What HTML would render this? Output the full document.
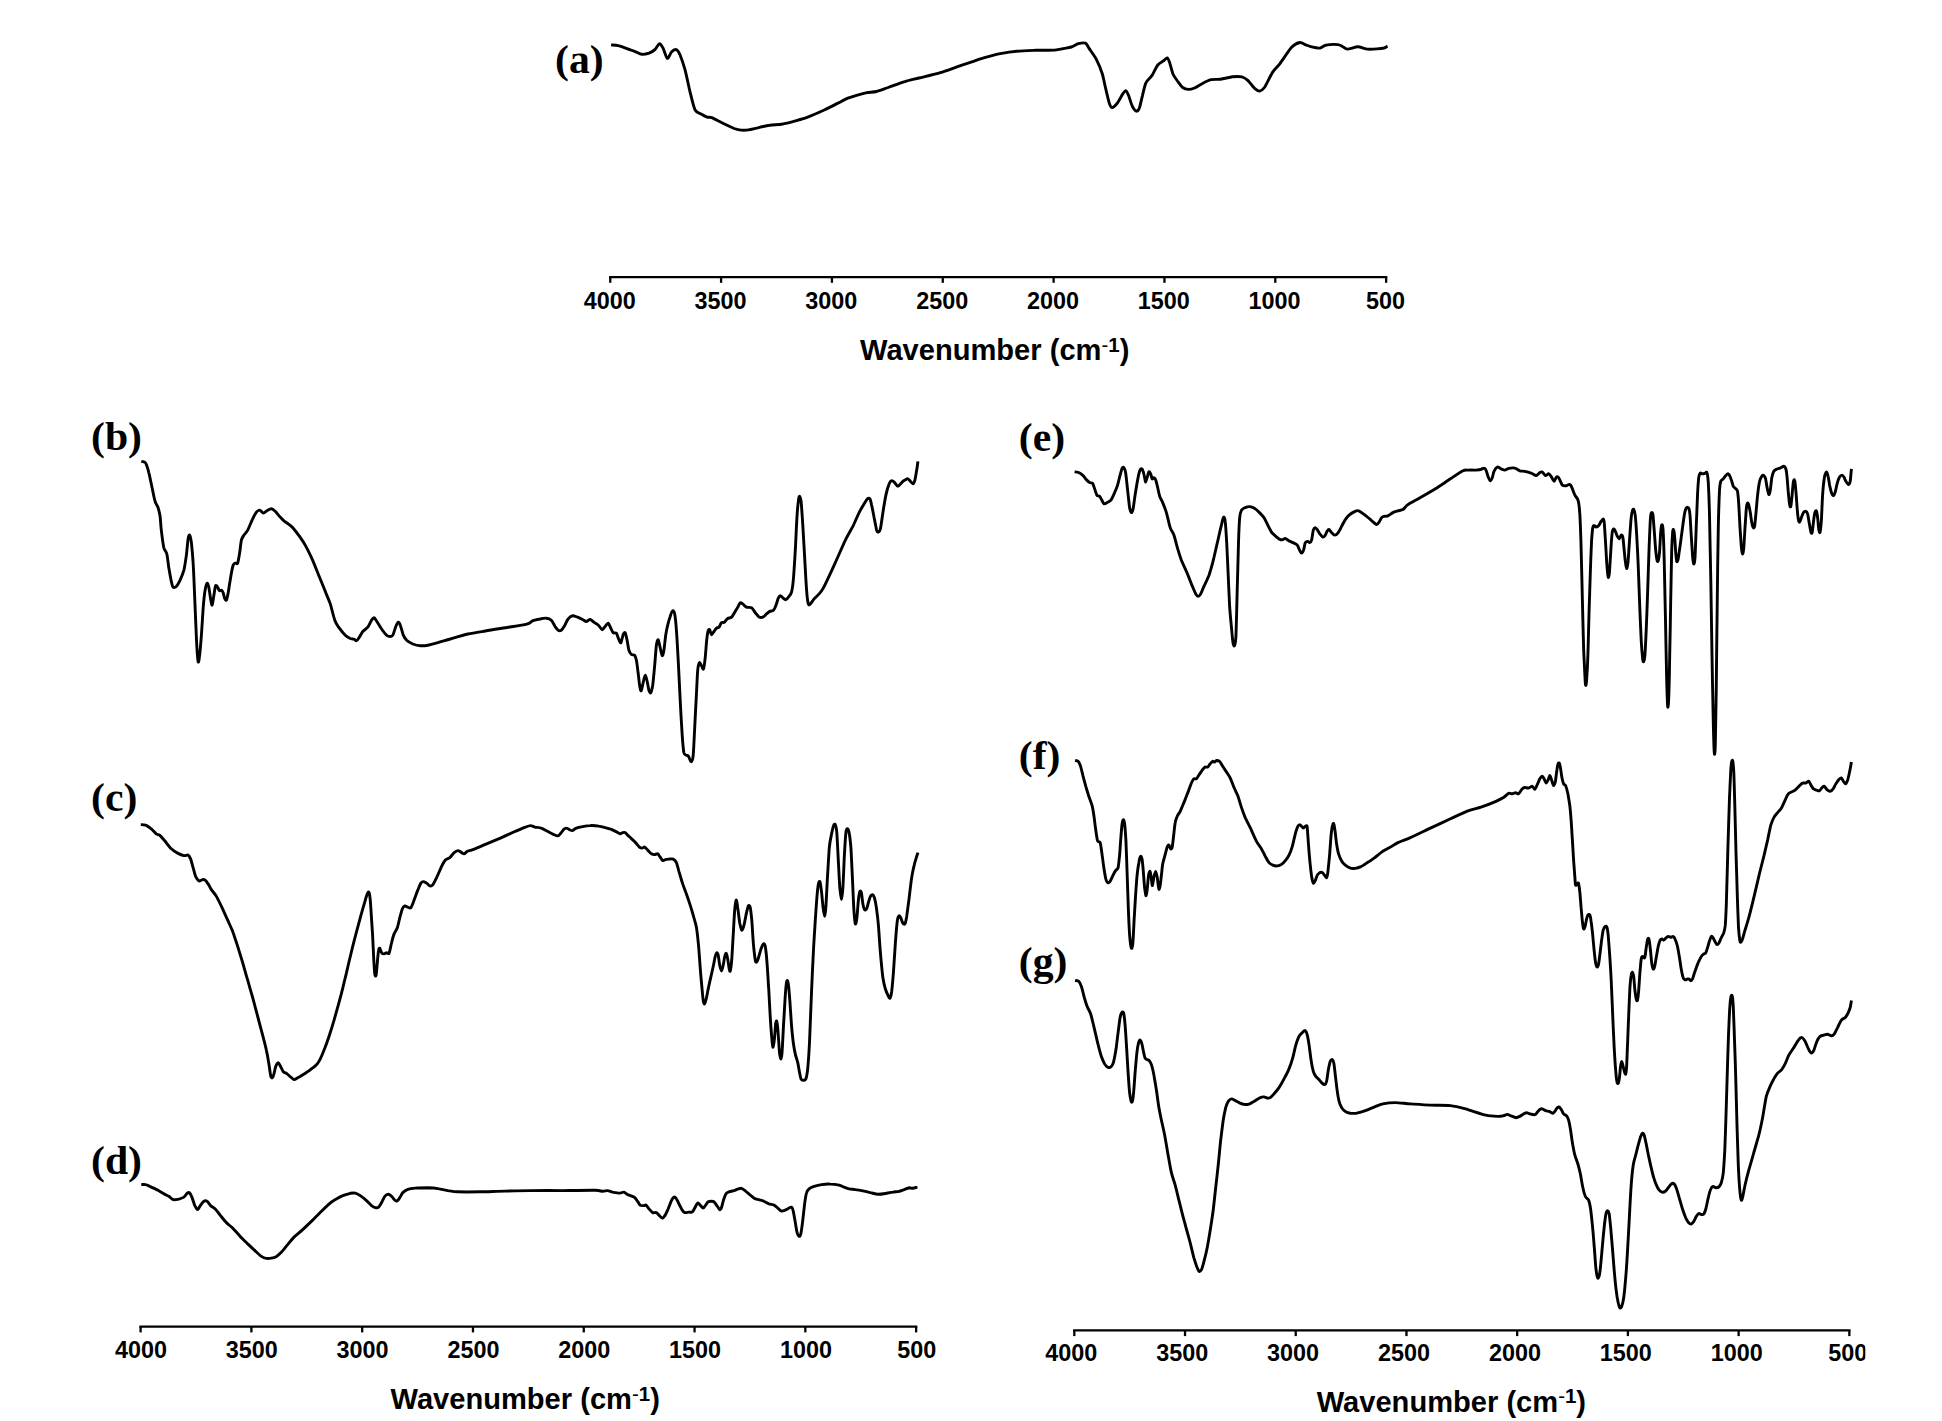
<!DOCTYPE html>
<html><head><meta charset="utf-8"><title>FTIR spectra</title>
<style>
html,body{margin:0;padding:0;background:#fff;}
body{width:1942px;height:1421px;overflow:hidden;}
svg{display:block;}
.cv path{fill:none;stroke:#000;stroke-width:2.9;stroke-linejoin:round;stroke-linecap:butt;}
.ax path{fill:none;stroke:#000;stroke-width:2.3;}
.tk{font-family:"Liberation Sans",Arial,sans-serif;font-weight:bold;font-size:23.4px;text-anchor:middle;fill:#000;}
.lb{font-family:"Liberation Sans",Arial,sans-serif;font-weight:bold;font-size:29.1px;fill:#000;}
.sup{font-size:20.5px;}
.mn{font-weight:normal;}
.pl{font-family:"Liberation Serif","Times New Roman",serif;font-weight:bold;font-size:40.5px;fill:#000;}
</style></head>
<body>
<svg width="1942" height="1421" viewBox="0 0 1942 1421">
<rect width="1942" height="1421" fill="#fff"/>
<g class="cv">
<path d="M611.1 44.9C612.0 45.0 616.0 45.0 618.2 45.6C620.4 46.1 625.4 48.1 627.6 48.9C629.9 49.7 632.9 50.5 634.7 51.3C636.6 52.0 640.0 54.1 641.9 54.3C643.7 54.6 647.2 53.8 649.0 53.2C650.7 52.5 653.5 50.9 654.9 49.6C656.3 48.3 658.5 43.8 659.6 43.7C660.7 43.5 662.1 46.5 663.2 48.4C664.2 50.4 666.3 57.9 667.4 58.4C668.5 58.8 670.3 53.1 671.5 52.0C672.6 50.8 675.1 49.3 676.2 49.6C677.3 49.9 678.6 51.7 679.8 54.3C680.9 57.0 683.5 64.5 685.0 69.7C686.4 75.0 689.1 88.1 690.4 93.4C691.8 98.8 693.7 107.3 695.1 110.0C696.6 112.8 699.5 113.1 701.1 114.0C702.7 115.0 705.6 116.6 707.0 117.1C708.4 117.6 709.7 116.8 711.7 117.6C713.8 118.4 719.4 121.6 722.4 123.0C725.4 124.5 731.7 127.5 734.2 128.5C736.8 129.4 739.4 130.0 741.3 130.1C743.2 130.3 746.2 130.2 748.4 129.9C750.7 129.6 755.1 128.4 757.9 127.8C760.8 127.1 766.6 125.6 769.8 125.2C772.9 124.7 778.4 124.7 781.6 124.2C784.8 123.7 790.0 122.3 793.5 121.4C796.9 120.4 803.6 118.6 807.7 117.1C811.8 115.6 820.1 111.9 824.2 110.0C828.3 108.1 835.3 104.5 838.5 102.9C841.6 101.3 845.4 99.2 847.9 98.2C850.5 97.1 854.9 95.8 857.4 95.1C859.9 94.4 864.4 93.2 866.9 92.7C869.4 92.2 873.5 92.2 876.4 91.5C879.2 90.8 884.4 88.8 888.2 87.5C892.0 86.2 900.7 82.8 904.8 81.6C908.9 80.3 914.3 79.2 919.0 78.0C923.7 76.8 935.3 74.1 940.3 72.6C945.4 71.1 952.8 68.3 956.9 66.9C961.0 65.5 967.5 63.4 971.1 62.2C974.7 61.0 979.8 59.0 983.7 57.9C987.6 56.8 995.8 54.5 1000.3 53.6C1004.7 52.8 1012.1 51.7 1016.8 51.3C1021.6 50.8 1030.7 50.5 1035.8 50.3C1040.9 50.2 1051.0 50.3 1054.7 50.1C1058.5 49.8 1062.0 48.8 1064.2 48.4C1066.4 48.0 1069.4 47.6 1071.3 47.0C1073.2 46.4 1076.5 44.2 1078.4 43.7C1080.3 43.2 1084.1 42.6 1085.5 43.2C1087.0 43.8 1087.7 46.3 1089.1 48.4C1090.5 50.5 1094.5 55.8 1096.2 59.1C1097.9 62.4 1100.9 69.3 1102.1 73.3C1103.4 77.2 1104.7 84.7 1105.7 88.7C1106.6 92.6 1108.4 100.4 1109.2 102.9C1110.1 105.4 1111.0 107.6 1112.1 107.6C1113.2 107.6 1116.2 104.6 1117.5 102.9C1118.9 101.2 1121.2 96.3 1122.3 94.6C1123.4 93.0 1125.0 90.4 1125.8 90.6C1126.7 90.7 1127.8 93.7 1128.7 95.8C1129.5 97.9 1131.4 104.4 1132.4 106.5C1133.5 108.5 1135.5 111.0 1136.5 111.2C1137.4 111.4 1138.8 109.7 1139.5 107.6C1140.3 105.6 1141.5 99.1 1142.4 95.8C1143.2 92.5 1144.7 85.5 1145.9 82.8C1147.2 80.1 1150.3 78.0 1151.9 75.7C1153.4 73.3 1156.2 67.0 1157.8 65.0C1159.4 63.0 1162.4 61.7 1163.7 60.7C1165.0 59.8 1166.5 57.6 1167.3 57.9C1168.1 58.2 1168.8 60.4 1169.6 62.6C1170.4 64.8 1172.1 72.0 1173.2 74.5C1174.3 77.0 1176.7 79.8 1177.9 81.6C1179.2 83.3 1181.2 86.5 1182.7 87.5C1184.1 88.5 1187.0 89.3 1188.6 89.4C1190.2 89.5 1192.8 88.7 1194.5 88.0C1196.2 87.3 1199.4 85.1 1201.6 84.0C1203.8 82.8 1208.6 80.3 1211.1 79.7C1213.6 79.1 1217.7 79.6 1220.6 79.2C1223.4 78.8 1229.6 77.2 1232.4 76.8C1235.2 76.5 1239.8 76.4 1241.9 76.8C1243.9 77.3 1246.1 78.8 1247.8 80.4C1249.5 82.0 1253.3 87.3 1254.9 88.7C1256.5 90.1 1258.4 91.2 1259.6 91.1C1260.9 90.9 1262.6 90.0 1264.4 87.5C1266.1 85.0 1270.6 75.3 1272.7 72.1C1274.7 69.0 1277.2 67.1 1279.8 63.8C1282.3 60.5 1288.9 50.1 1291.6 47.2C1294.3 44.4 1298.0 42.8 1299.9 42.5C1301.8 42.2 1304.1 44.2 1305.8 44.9C1307.6 45.5 1311.0 46.8 1312.9 47.2C1314.8 47.7 1318.3 48.2 1320.0 48.0C1321.8 47.7 1323.6 45.6 1326.0 45.1C1328.3 44.7 1335.6 44.4 1337.8 44.6C1340.0 44.8 1341.3 45.9 1342.5 46.5C1343.8 47.1 1345.2 49.1 1347.3 49.1C1349.3 49.2 1355.3 46.8 1357.9 46.8C1360.6 46.8 1364.9 48.9 1367.4 49.1C1369.9 49.4 1374.7 49.1 1376.9 48.9C1379.1 48.7 1382.6 48.3 1384.0 48.0C1385.4 47.6 1387.1 46.3 1387.5 46.1"/>
<path d="M141.3 461.3C141.9 461.5 144.6 461.5 145.6 463.0C146.6 464.5 147.9 469.0 148.8 472.6C149.8 476.2 151.7 486.2 152.6 490.1C153.4 493.9 154.3 499.0 155.1 501.3C155.8 503.7 157.4 505.6 158.1 507.6C158.7 509.6 159.6 513.3 160.1 516.3C160.5 519.4 160.8 525.9 161.3 530.1C161.8 534.3 163.1 544.5 163.8 547.6C164.6 550.8 166.2 551.2 166.8 553.9C167.5 556.6 168.2 564.0 168.8 567.7C169.4 571.3 170.8 578.8 171.3 581.4C171.9 584.0 172.4 586.5 173.1 587.2C173.8 587.8 175.4 587.4 176.3 586.4C177.3 585.5 179.1 582.3 180.1 580.2C181.1 578.0 183.0 573.5 183.9 570.2C184.7 566.8 185.8 559.3 186.4 555.1C186.9 551.0 187.7 541.5 188.1 538.9C188.5 536.2 189.2 534.6 189.6 535.1C190.0 535.6 190.9 539.0 191.4 542.6C191.8 546.3 192.7 555.6 193.1 562.6C193.6 569.7 194.2 585.2 194.6 595.2C195.1 605.2 195.9 628.9 196.4 637.7C196.8 646.6 197.7 659.2 198.1 661.5C198.6 663.8 199.2 658.7 199.6 655.2C200.1 651.7 200.9 641.9 201.4 635.2C201.9 628.5 202.9 611.2 203.4 605.2C203.9 599.2 204.6 593.1 205.1 590.2C205.6 587.2 206.6 583.5 207.1 583.2C207.6 582.8 208.4 585.6 208.9 587.7C209.3 589.8 210.2 596.6 210.6 598.9C211.1 601.3 211.7 605.7 212.1 605.2C212.6 604.7 213.4 597.8 213.9 595.2C214.4 592.6 215.1 586.7 215.6 585.7C216.1 584.6 217.1 586.5 217.6 587.2C218.1 587.8 218.9 590.3 219.4 590.7C219.9 591.1 220.9 589.9 221.4 590.2C221.9 590.4 222.7 591.6 223.1 592.7C223.6 593.7 224.2 597.2 224.6 598.2C225.1 599.2 225.9 600.9 226.4 600.2C226.9 599.5 227.7 595.3 228.2 592.7C228.7 590.0 229.5 583.8 230.2 580.2C230.8 576.5 232.4 567.4 233.2 565.1C233.9 562.9 235.1 563.4 235.7 563.1C236.3 562.9 237.1 564.5 237.7 563.1C238.2 561.7 239.2 555.7 239.7 552.6C240.2 549.6 240.8 542.5 241.4 540.1C242.0 537.8 243.1 536.5 243.9 535.1C244.8 533.8 246.5 532.3 247.7 530.1C248.8 527.9 251.5 521.3 252.7 518.9C253.8 516.4 255.5 513.3 256.4 512.1C257.4 510.9 258.8 510.0 259.7 510.1C260.6 510.2 262.4 513.0 263.4 513.1C264.4 513.2 266.1 511.2 267.2 510.6C268.3 510.0 270.4 508.7 271.4 508.8C272.5 508.9 274.0 510.2 275.2 511.3C276.4 512.4 279.0 515.8 280.2 517.1C281.4 518.4 282.4 519.5 284.0 520.9C285.6 522.2 290.2 525.1 292.2 527.1C294.2 529.1 297.2 533.2 299.0 535.6C300.7 538.0 303.6 542.2 305.2 545.1C306.9 548.1 309.8 554.0 311.5 557.6C313.2 561.3 315.9 568.2 317.7 572.7C319.6 577.2 323.6 587.3 325.3 591.4C326.9 595.6 329.0 600.1 330.3 603.9C331.5 607.8 333.6 617.0 334.8 620.2C335.9 623.4 337.6 625.7 339.0 627.7C340.4 629.7 343.8 633.8 345.3 635.2C346.8 636.7 349.1 637.9 350.3 638.5C351.4 639.0 353.2 638.9 354.0 639.2C354.9 639.5 355.9 640.9 356.5 640.7C357.2 640.5 358.2 639.0 359.0 637.7C359.9 636.5 361.6 632.9 362.8 631.5C364.0 630.1 366.6 628.7 367.8 627.2C369.0 625.7 370.7 621.5 371.5 620.2C372.4 618.9 373.4 617.6 374.1 617.7C374.7 617.8 375.6 619.5 376.6 621.0C377.6 622.5 380.2 627.1 381.6 629.0C382.9 630.9 385.4 634.2 386.6 635.2C387.7 636.2 389.5 636.5 390.3 636.5C391.2 636.5 392.1 636.6 392.8 635.2C393.6 633.9 395.1 628.2 395.8 626.5C396.6 624.7 397.7 622.4 398.3 622.2C398.9 622.0 399.7 623.5 400.3 625.2C401.0 626.9 402.5 633.2 403.3 635.2C404.2 637.2 405.3 639.1 406.6 640.2C407.9 641.4 411.0 643.2 412.8 644.0C414.7 644.7 418.3 645.6 420.4 645.7C422.4 645.9 425.5 645.6 427.9 645.2C430.2 644.8 434.9 643.6 437.9 642.7C440.9 641.9 446.4 640.1 450.4 639.0C454.4 637.8 463.2 635.0 467.9 634.0C472.6 632.9 480.4 631.8 485.4 631.0C490.4 630.1 499.9 628.6 505.4 627.7C510.9 626.8 523.0 625.1 526.7 624.2C530.4 623.3 531.2 621.4 533.0 620.7C534.7 620.0 538.3 619.3 540.0 619.0C541.8 618.6 544.8 618.0 546.3 618.2C547.8 618.4 550.1 619.1 551.3 620.2C552.5 621.3 554.2 625.1 555.1 626.5C556.0 627.8 557.2 629.7 558.1 630.2C558.9 630.7 560.4 630.8 561.3 630.2C562.2 629.6 563.7 627.2 564.6 625.7C565.5 624.2 567.0 620.3 568.1 619.0C569.1 617.6 571.3 615.9 572.6 615.7C573.8 615.5 576.2 616.7 577.6 617.2C578.9 617.7 581.4 618.9 582.6 619.5C583.8 620.0 585.3 621.5 586.3 621.5C587.3 621.5 589.1 619.4 590.1 619.5C591.1 619.6 592.7 621.4 593.8 622.2C594.9 623.0 597.3 624.2 598.4 625.2C599.5 626.2 601.2 629.5 602.1 629.7C603.0 629.9 604.3 627.3 605.1 626.5C605.9 625.6 607.4 623.0 608.1 623.2C608.8 623.4 609.9 626.4 610.6 627.7C611.3 629.0 612.3 632.0 613.1 632.7C613.9 633.5 615.6 632.3 616.4 633.2C617.1 634.2 618.3 638.5 618.9 639.7C619.5 641.0 620.3 643.4 620.9 642.7C621.4 642.1 622.6 636.1 623.1 634.7C623.7 633.4 624.6 632.0 625.1 632.7C625.7 633.5 626.6 637.9 627.1 640.2C627.6 642.6 628.3 648.3 628.9 650.2C629.4 652.1 630.6 653.8 631.4 654.5C632.2 655.2 634.0 654.5 634.6 655.2C635.3 656.0 635.9 657.9 636.4 660.2C636.9 662.6 637.7 669.4 638.1 672.8C638.6 676.1 639.2 682.9 639.6 685.3C640.0 687.7 640.7 691.1 641.1 690.8C641.6 690.4 642.6 684.8 643.1 682.8C643.7 680.7 644.6 675.4 645.1 675.3C645.7 675.1 646.7 679.5 647.2 681.5C647.7 683.5 648.4 688.8 648.9 690.3C649.4 691.8 650.2 693.4 650.7 692.8C651.2 692.1 652.1 688.9 652.7 685.3C653.2 681.6 654.2 670.6 654.7 665.3C655.2 659.9 655.9 648.6 656.4 645.2C656.9 641.8 657.7 639.4 658.2 639.7C658.7 640.1 659.6 645.6 660.2 647.7C660.7 649.9 661.7 655.4 662.2 655.7C662.7 656.1 663.5 653.0 663.9 650.2C664.4 647.5 665.2 638.6 665.7 635.2C666.2 631.9 667.1 627.7 667.7 625.2C668.3 622.7 669.5 618.4 670.2 616.5C670.8 614.5 672.1 611.0 672.7 610.7C673.3 610.4 674.2 611.3 674.7 613.9C675.2 616.6 676.0 624.0 676.4 630.2C676.9 636.4 677.7 650.9 678.2 660.2C678.7 669.6 679.7 690.3 680.2 700.3C680.7 710.3 681.7 728.3 682.2 735.3C682.7 742.3 683.4 750.2 683.9 752.8C684.5 755.5 685.9 754.9 686.4 755.3C687.0 755.7 687.8 755.3 688.2 755.8C688.6 756.3 689.3 758.3 689.7 759.1C690.1 759.9 691.0 762.1 691.4 761.6C691.9 761.1 692.8 759.8 693.2 755.3C693.6 750.8 694.3 736.2 694.7 727.8C695.1 719.5 696.1 700.5 696.5 692.8C696.9 685.1 697.3 674.3 697.7 670.3C698.1 666.3 699.0 663.4 699.5 662.7C700.0 662.1 700.9 664.9 701.5 665.8C702.0 666.6 703.0 670.1 703.5 669.0C704.0 667.9 704.8 661.6 705.2 657.7C705.6 653.9 706.3 643.8 706.7 640.2C707.1 636.6 707.8 632.1 708.2 630.7C708.6 629.3 709.3 629.2 709.7 629.7C710.1 630.2 710.9 634.5 711.5 634.7C712.0 635.0 713.3 632.3 714.0 631.5C714.6 630.6 715.8 628.8 716.5 628.2C717.1 627.6 718.3 627.9 719.0 627.2C719.6 626.5 720.7 623.4 721.5 622.7C722.2 622.0 723.6 622.8 724.5 622.2C725.3 621.6 726.8 619.1 727.7 618.5C728.7 617.8 730.5 618.1 731.5 617.2C732.5 616.3 734.3 612.9 735.2 611.4C736.1 610.0 737.6 607.6 738.2 606.4C738.9 605.3 739.6 603.0 740.2 602.7C740.8 602.4 741.9 603.3 742.7 603.9C743.6 604.5 745.3 606.7 746.5 607.2C747.7 607.7 750.3 607.0 751.5 607.7C752.7 608.4 754.3 611.5 755.3 612.7C756.3 613.9 758.0 616.4 759.0 617.0C760.0 617.6 761.8 617.6 762.8 617.2C763.8 616.8 765.6 614.7 766.5 613.9C767.5 613.2 768.8 611.9 769.8 611.4C770.7 610.9 772.7 611.0 773.5 610.2C774.4 609.4 775.4 606.8 776.0 605.2C776.7 603.6 777.7 599.5 778.3 598.2C778.9 596.9 779.7 595.7 780.3 595.7C780.9 595.6 782.1 597.1 782.8 597.7C783.5 598.2 785.0 599.9 785.8 599.7C786.6 599.5 788.3 597.4 789.0 596.4C789.8 595.4 791.0 594.3 791.5 592.2C792.1 590.0 792.8 585.8 793.3 580.2C793.8 574.6 794.8 558.8 795.3 550.1C795.8 541.5 796.6 521.8 797.1 515.1C797.5 508.4 798.2 502.1 798.6 499.6C798.9 497.1 799.2 496.1 799.6 496.3C799.9 496.6 800.6 497.5 801.1 501.3C801.5 505.2 802.3 517.3 802.8 525.1C803.3 532.9 804.3 551.5 804.8 560.1C805.3 568.8 806.1 584.3 806.6 590.2C807.0 596.0 807.8 602.1 808.3 603.9C808.8 605.8 809.6 604.6 810.3 603.9C811.1 603.3 812.9 600.3 814.1 598.9C815.2 597.6 817.9 595.3 819.1 593.9C820.2 592.6 821.7 590.9 822.8 588.9C824.0 586.9 826.2 582.4 827.8 578.9C829.5 575.4 833.0 567.8 835.3 562.6C837.7 557.5 843.0 545.0 845.4 540.1C847.7 535.3 851.0 530.0 852.9 526.4C854.7 522.7 857.6 515.6 859.1 512.6C860.6 509.6 863.0 505.7 864.1 503.8C865.2 502.0 866.6 499.5 867.4 498.8C868.1 498.2 869.3 498.0 869.9 498.8C870.4 499.7 871.1 502.6 871.6 505.1C872.2 507.6 873.5 514.3 874.1 517.6C874.8 520.9 876.1 528.2 876.6 530.1C877.2 532.0 877.9 532.3 878.4 532.1C878.9 531.9 879.8 531.5 880.4 528.9C881.0 526.3 882.2 517.1 882.9 512.6C883.6 508.1 885.1 498.9 885.9 495.1C886.7 491.2 888.4 485.8 889.2 483.8C889.9 481.9 891.0 480.8 891.7 480.6C892.3 480.3 893.3 481.3 894.2 482.1C895.0 482.8 896.9 486.3 897.9 486.3C898.9 486.4 900.7 483.4 901.7 482.6C902.6 481.7 904.1 480.6 904.9 480.1C905.8 479.6 907.2 478.6 907.9 478.8C908.7 479.0 909.8 480.6 910.4 481.3C911.1 482.0 912.3 484.0 912.9 483.8C913.5 483.6 914.4 481.9 914.9 480.1C915.4 478.2 916.3 472.6 916.7 470.1C917.1 467.5 917.8 462.5 917.9 461.3"/>
<path d="M140.8 824.6C141.4 824.6 144.2 824.5 145.6 825.1C147.0 825.6 149.9 827.7 151.3 828.8C152.8 830.0 155.2 832.9 156.3 833.8C157.5 834.7 158.9 834.6 160.1 835.6C161.3 836.6 163.6 839.6 165.1 841.3C166.6 843.1 169.7 847.3 171.3 848.8C173.0 850.4 175.9 852.2 177.6 853.1C179.3 854.0 182.5 855.3 183.9 855.6C185.3 855.9 187.2 854.7 188.1 855.1C189.0 855.5 189.9 857.2 190.6 858.9C191.3 860.5 192.4 865.3 193.1 867.6C193.8 869.9 194.9 874.6 195.6 876.4C196.4 878.1 197.9 880.4 198.9 880.9C199.8 881.3 201.8 879.7 202.6 879.6C203.5 879.5 204.4 879.6 205.1 880.1C205.9 880.7 207.3 882.6 208.1 883.9C209.0 885.1 210.3 888.0 211.4 889.6C212.5 891.3 214.9 893.8 216.4 896.4C217.9 899.0 221.1 905.7 222.6 908.9C224.1 912.1 226.3 917.2 227.7 920.2C229.0 923.2 231.3 927.9 232.7 931.4C234.0 934.9 236.3 942.3 237.7 946.4C239.0 950.6 241.3 958.2 242.7 962.7C244.0 967.2 246.3 975.6 247.7 980.2C249.0 984.9 251.3 992.9 252.7 997.7C254.0 1002.6 256.3 1011.5 257.7 1016.5C259.0 1021.5 261.5 1030.8 262.7 1035.3C263.9 1039.8 265.6 1046.5 266.4 1050.3C267.3 1054.1 268.4 1060.7 268.9 1064.1C269.5 1067.5 270.3 1074.0 270.7 1075.8C271.1 1077.7 271.8 1078.1 272.2 1077.8C272.6 1077.6 273.5 1075.6 273.9 1074.1C274.4 1072.6 275.1 1068.1 275.7 1066.6C276.3 1065.1 277.6 1062.9 278.2 1062.8C278.8 1062.7 279.5 1064.6 280.2 1065.8C280.9 1067.0 282.4 1070.6 283.2 1071.6C284.0 1072.6 285.5 1072.7 286.5 1073.3C287.4 1074.0 289.2 1075.7 290.2 1076.6C291.2 1077.4 293.0 1079.4 294.0 1079.6C295.0 1079.7 296.4 1078.6 297.7 1077.8C299.1 1077.1 302.3 1075.1 304.0 1074.1C305.6 1073.0 308.6 1071.1 310.2 1069.8C311.9 1068.6 315.2 1066.2 316.5 1064.8C317.8 1063.4 319.2 1061.0 320.2 1059.1C321.2 1057.1 322.8 1053.3 324.0 1050.3C325.2 1047.3 327.7 1040.5 329.0 1036.5C330.3 1032.5 332.5 1025.4 334.0 1020.3C335.5 1015.1 338.8 1003.4 340.3 997.7C341.8 992.1 343.9 983.2 345.3 977.7C346.6 972.2 348.9 962.0 350.3 956.5C351.6 950.9 353.9 941.6 355.3 936.4C356.6 931.3 359.0 922.5 360.3 917.7C361.6 912.8 364.4 903.3 365.3 900.1C366.2 897.0 366.8 895.0 367.3 893.9C367.8 892.8 368.4 891.6 368.8 892.1C369.2 892.6 369.7 894.6 370.0 897.6C370.4 900.7 371.0 910.2 371.3 915.2C371.6 920.2 372.2 929.2 372.6 935.2C372.9 941.2 373.5 955.0 373.8 960.2C374.1 965.4 374.5 972.0 374.8 974.0C375.1 976.0 375.7 976.7 376.1 975.2C376.4 973.7 377.0 966.0 377.3 962.7C377.6 959.4 378.2 952.1 378.6 950.2C378.9 948.3 379.4 947.9 379.8 948.2C380.2 948.5 381.0 951.9 381.6 952.7C382.1 953.5 383.4 953.9 384.1 953.9C384.7 953.9 385.9 952.8 386.6 952.7C387.2 952.6 388.4 954.5 389.1 953.2C389.7 951.9 390.9 945.3 391.6 942.7C392.2 940.1 393.3 935.9 394.1 933.9C394.8 931.9 396.6 929.8 397.3 927.7C398.1 925.5 399.2 920.2 399.8 917.7C400.5 915.2 401.7 910.5 402.3 908.9C403.0 907.3 404.1 906.1 404.8 905.9C405.6 905.7 407.0 906.9 407.8 907.2C408.6 907.4 410.0 908.6 410.8 907.7C411.7 906.7 413.2 902.5 414.1 900.1C415.0 897.8 416.9 892.4 417.8 890.1C418.7 887.9 420.1 884.3 420.9 883.1C421.6 882.0 422.6 881.6 423.4 881.6C424.1 881.6 425.7 882.6 426.6 883.1C427.5 883.7 429.0 885.7 429.9 885.9C430.7 886.1 432.0 885.7 432.9 884.6C433.8 883.5 435.4 880.1 436.6 877.6C437.8 875.2 440.5 868.7 441.6 866.4C442.8 864.0 444.3 861.3 445.4 860.1C446.5 858.9 448.7 858.6 449.9 857.6C451.0 856.6 453.1 853.5 454.1 852.6C455.2 851.7 457.0 850.7 457.9 850.6C458.8 850.5 460.1 851.7 460.9 852.1C461.7 852.5 463.3 853.9 464.1 853.8C465.0 853.7 466.2 851.9 467.4 851.3C468.6 850.8 470.5 850.5 472.9 849.6C475.3 848.7 481.7 845.9 485.4 844.3C489.1 842.8 496.4 839.8 500.4 838.1C504.4 836.3 512.1 832.8 515.4 831.3C518.8 829.9 523.5 827.8 525.5 827.1C527.5 826.3 529.2 825.6 530.5 825.6C531.7 825.6 533.6 826.7 535.0 827.1C536.5 827.4 539.6 827.5 541.3 828.1C543.0 828.6 545.9 830.5 547.5 831.3C549.2 832.2 552.4 834.0 553.8 834.6C555.2 835.2 557.1 836.1 558.1 835.8C559.1 835.6 560.5 833.4 561.3 832.6C562.1 831.7 563.1 829.9 563.8 829.3C564.5 828.7 565.6 828.0 566.3 828.1C567.1 828.1 568.5 829.2 569.3 829.6C570.2 829.9 571.6 830.8 572.6 830.6C573.5 830.4 575.0 828.6 576.3 828.1C577.7 827.5 580.7 826.9 582.6 826.6C584.4 826.2 587.9 825.6 590.1 825.6C592.3 825.5 596.8 825.8 598.9 826.1C600.9 826.3 603.4 827.1 605.1 827.6C606.8 828.0 609.9 828.8 611.4 829.3C612.9 829.9 615.2 831.2 616.4 831.8C617.5 832.4 619.3 833.7 620.1 833.8C621.0 833.9 622.0 832.7 622.6 832.6C623.3 832.4 624.3 832.1 625.1 832.6C626.0 833.1 627.5 835.1 628.9 836.3C630.2 837.6 633.7 840.6 635.1 842.1C636.5 843.5 638.5 846.3 639.4 847.1C640.3 847.9 641.4 848.1 642.1 848.1C642.8 848.1 643.9 846.8 644.6 847.1C645.4 847.4 646.8 849.2 647.7 850.1C648.6 851.0 650.5 853.2 651.4 853.8C652.3 854.4 653.8 854.6 654.7 854.6C655.5 854.6 656.9 853.5 657.7 853.8C658.4 854.2 659.5 856.2 660.2 857.1C660.8 858.0 662.0 860.3 662.7 860.6C663.3 860.9 664.3 859.8 665.2 859.6C666.0 859.4 667.9 859.2 668.9 859.1C670.0 859.0 672.2 858.6 673.2 859.1C674.2 859.6 675.7 861.0 676.4 862.6C677.2 864.2 678.1 868.5 678.9 871.4C679.8 874.2 681.7 880.9 682.7 883.9C683.7 886.9 685.4 891.1 686.4 893.9C687.4 896.7 689.2 902.0 690.2 905.1C691.2 908.3 693.1 914.7 693.9 917.7C694.8 920.7 695.9 924.0 696.5 927.7C697.1 931.3 698.0 939.9 698.5 945.2C699.0 950.5 699.8 962.4 700.2 967.7C700.6 973.1 701.3 980.9 701.7 985.2C702.1 989.6 702.8 997.7 703.2 1000.2C703.6 1002.7 704.1 1004.2 704.5 1004.0C704.9 1003.8 705.7 1001.0 706.2 999.0C706.7 997.0 707.6 991.8 708.2 989.0C708.8 986.1 710.0 980.7 710.7 977.7C711.4 974.7 712.6 969.3 713.2 966.5C713.8 963.6 714.8 958.3 715.2 956.5C715.7 954.6 716.3 952.9 716.7 952.7C717.1 952.5 717.8 953.5 718.2 955.2C718.6 956.9 719.3 963.1 719.7 965.2C720.2 967.3 721.0 971.0 721.5 971.0C721.9 971.0 722.8 967.1 723.2 965.2C723.7 963.3 724.3 958.0 724.7 956.5C725.1 954.9 725.8 953.1 726.2 953.4C726.6 953.8 727.3 956.9 727.7 959.0C728.1 961.0 728.9 967.4 729.2 969.0C729.6 970.6 729.9 972.1 730.2 971.0C730.6 969.8 731.3 965.0 731.7 960.2C732.1 955.4 732.8 941.9 733.2 935.2C733.6 928.5 734.3 914.8 734.7 910.2C735.1 905.5 735.8 900.5 736.2 900.1C736.6 899.8 737.3 904.6 737.7 907.7C738.2 910.7 739.2 919.7 739.7 922.7C740.3 925.7 741.2 929.8 741.7 930.2C742.3 930.5 743.4 927.5 744.0 925.2C744.6 922.8 745.9 915.3 746.5 912.7C747.1 910.1 748.0 906.3 748.5 905.6C749.0 905.0 749.8 905.7 750.3 907.7C750.7 909.6 751.3 915.2 751.8 920.2C752.2 925.2 753.0 939.9 753.5 945.2C754.0 950.5 754.9 957.9 755.3 960.2C755.7 962.5 756.1 962.5 756.5 962.2C756.9 961.9 757.9 959.5 758.5 957.7C759.1 955.9 760.4 950.8 761.0 948.9C761.7 947.1 763.0 944.3 763.5 943.9C764.1 943.6 764.8 943.9 765.3 946.4C765.7 948.9 766.6 956.9 767.0 962.7C767.5 968.5 768.3 982.9 768.8 990.2C769.2 997.6 769.9 1011.4 770.3 1017.8C770.7 1024.1 771.4 1033.8 771.8 1037.8C772.1 1041.7 772.4 1047.0 772.8 1047.3C773.1 1047.6 773.9 1043.6 774.3 1040.3C774.7 1037.0 775.4 1025.2 775.8 1022.8C776.2 1020.4 776.7 1020.6 777.0 1022.3C777.4 1023.9 778.0 1031.2 778.3 1035.3C778.6 1039.4 779.2 1049.6 779.5 1052.8C779.9 1056.0 780.5 1059.1 780.8 1059.1C781.1 1059.1 781.7 1057.3 782.0 1052.8C782.4 1048.3 783.1 1032.9 783.5 1025.3C784.0 1017.6 784.9 1001.1 785.3 995.2C785.7 989.3 786.4 982.5 786.8 981.0C787.2 979.5 787.9 981.4 788.3 984.0C788.7 986.5 789.4 994.7 789.8 1000.2C790.2 1005.8 791.1 1019.6 791.5 1025.3C792.0 1030.9 792.8 1039.0 793.3 1042.8C793.8 1046.6 794.7 1051.4 795.3 1054.1C795.9 1056.7 797.2 1060.3 797.8 1062.8C798.4 1065.3 799.1 1070.7 799.6 1072.8C800.0 1075.0 800.6 1078.1 801.1 1079.1C801.6 1080.1 802.7 1080.3 803.3 1080.3C803.9 1080.3 805.2 1080.7 805.8 1079.1C806.4 1077.4 807.3 1073.0 807.8 1067.8C808.3 1062.6 809.1 1050.6 809.6 1040.3C810.1 1029.9 811.0 1002.6 811.6 990.2C812.1 977.9 813.1 957.0 813.6 947.7C814.1 938.4 814.9 927.2 815.3 920.2C815.8 913.2 816.6 900.1 817.1 895.1C817.5 890.2 818.2 884.9 818.6 883.1C819.0 881.4 819.7 880.9 820.1 882.1C820.5 883.4 821.2 889.2 821.6 892.6C822.0 896.0 822.7 904.5 823.1 907.7C823.5 910.8 824.2 916.4 824.6 916.4C825.0 916.4 825.5 912.5 825.8 907.7C826.2 902.8 826.9 888.1 827.3 880.1C827.8 872.1 828.8 853.8 829.3 847.6C829.9 841.4 831.0 836.8 831.6 833.8C832.2 830.9 833.1 826.8 833.6 825.6C834.1 824.3 834.9 823.6 835.3 824.6C835.8 825.5 836.4 827.8 836.8 832.6C837.2 837.3 837.9 852.8 838.3 860.1C838.7 867.4 839.4 882.4 839.8 887.6C840.3 892.9 841.0 899.6 841.4 899.6C841.8 899.6 842.5 893.6 842.9 887.6C843.3 881.7 844.0 862.4 844.4 855.1C844.8 847.8 845.5 836.1 845.9 832.6C846.3 829.1 846.9 828.8 847.4 828.8C847.8 828.8 848.6 830.1 849.1 832.6C849.6 835.1 850.4 841.6 850.9 847.6C851.3 853.6 852.0 869.3 852.4 877.6C852.8 886.0 853.5 904.0 853.9 910.2C854.3 916.3 855.0 922.9 855.4 923.9C855.8 924.9 856.5 920.8 856.9 917.7C857.3 914.5 858.0 903.6 858.4 900.1C858.8 896.6 859.5 892.4 859.9 891.4C860.3 890.4 861.0 891.0 861.4 892.6C861.8 894.3 862.4 901.6 862.9 903.9C863.3 906.2 864.1 909.0 864.6 909.7C865.1 910.3 866.1 909.8 866.6 908.9C867.1 908.0 867.9 904.3 868.4 902.6C868.9 901.0 869.8 897.5 870.4 896.4C870.9 895.3 871.8 894.5 872.4 894.6C872.9 894.8 873.9 895.9 874.4 897.6C874.9 899.4 875.9 904.0 876.4 907.7C876.9 911.3 877.9 919.2 878.4 925.2C878.9 931.2 879.8 945.7 880.4 952.7C881.0 959.7 882.2 972.9 882.9 977.7C883.6 982.6 884.7 986.6 885.4 989.0C886.1 991.3 887.3 994.0 887.9 995.2C888.5 996.5 889.4 998.7 889.9 998.2C890.4 997.7 891.2 994.9 891.7 991.5C892.1 988.1 892.9 979.2 893.4 972.7C893.9 966.2 894.9 949.7 895.4 942.7C895.9 935.7 896.9 923.8 897.4 920.2C897.9 916.6 898.9 915.8 899.4 915.7C899.9 915.5 900.7 917.9 901.2 918.9C901.6 919.9 902.4 922.5 902.9 923.2C903.4 923.8 904.4 924.8 904.9 923.9C905.4 923.0 906.1 919.9 906.7 916.4C907.2 912.9 908.5 902.8 909.2 897.6C909.8 892.5 911.0 882.0 911.7 877.6C912.3 873.3 913.5 867.9 914.2 865.1C914.8 862.3 916.2 858.0 916.7 856.3C917.2 854.7 917.8 853.1 917.9 852.6"/>
<path d="M141.3 1184.6C141.9 1184.6 144.2 1184.2 145.6 1184.6C146.9 1184.9 149.7 1186.3 151.3 1187.1C152.9 1187.8 155.9 1189.2 157.6 1190.1C159.2 1191.0 162.3 1193.0 163.8 1193.8C165.3 1194.7 167.6 1195.6 168.8 1196.3C170.1 1197.1 171.8 1199.2 173.1 1199.6C174.4 1199.9 177.4 1199.4 178.9 1199.1C180.3 1198.7 182.8 1197.8 183.9 1197.1C185.0 1196.3 186.4 1193.9 187.1 1193.3C187.8 1192.7 188.7 1192.1 189.4 1192.6C190.0 1193.1 191.2 1195.4 191.9 1197.1C192.6 1198.7 193.9 1203.4 194.6 1205.1C195.4 1206.8 196.8 1209.6 197.6 1209.6C198.4 1209.6 199.8 1206.2 200.6 1205.1C201.5 1204.0 203.0 1201.8 203.9 1201.3C204.7 1200.8 206.2 1200.8 207.1 1201.3C208.0 1201.9 209.6 1204.6 210.6 1205.6C211.7 1206.6 213.9 1207.6 215.1 1208.8C216.4 1210.1 218.6 1213.3 220.1 1215.1C221.6 1216.9 224.7 1220.9 226.4 1222.6C228.1 1224.3 230.8 1226.3 232.7 1228.1C234.5 1229.9 238.2 1234.3 240.2 1236.4C242.2 1238.5 245.7 1241.9 247.7 1243.9C249.7 1245.8 253.3 1249.2 255.2 1250.9C257.0 1252.6 259.9 1255.4 261.4 1256.4C262.9 1257.4 265.1 1258.2 266.4 1258.4C267.8 1258.6 270.1 1258.4 271.4 1258.1C272.8 1257.9 275.1 1257.2 276.5 1256.4C277.8 1255.6 280.0 1253.7 281.5 1252.1C283.0 1250.6 286.0 1246.6 287.7 1244.6C289.4 1242.6 292.0 1239.1 294.0 1237.1C296.0 1235.1 300.2 1231.9 302.7 1229.6C305.2 1227.3 310.2 1222.5 312.7 1220.1C315.2 1217.7 319.5 1213.3 321.5 1211.3C323.5 1209.3 325.9 1206.7 327.8 1205.1C329.6 1203.5 333.3 1200.8 335.3 1199.6C337.3 1198.3 340.8 1196.4 342.8 1195.6C344.8 1194.7 348.6 1193.7 350.3 1193.3C351.9 1193.0 353.9 1192.8 355.3 1193.1C356.6 1193.4 358.8 1194.6 360.3 1195.6C361.8 1196.6 365.0 1199.2 366.5 1200.6C368.0 1201.9 370.4 1204.7 371.5 1205.6C372.7 1206.5 374.4 1207.4 375.3 1207.6C376.2 1207.8 377.7 1207.8 378.6 1207.1C379.4 1206.4 380.7 1204.0 381.6 1202.6C382.4 1201.2 383.9 1197.4 384.8 1196.3C385.7 1195.2 387.4 1194.3 388.3 1194.3C389.2 1194.3 390.7 1195.6 391.6 1196.3C392.4 1197.1 394.1 1199.5 394.8 1200.1C395.6 1200.7 396.7 1201.2 397.3 1200.8C398.0 1200.5 399.1 1198.7 399.8 1197.6C400.6 1196.5 401.8 1193.7 402.8 1192.6C403.9 1191.5 406.2 1189.9 407.8 1189.3C409.5 1188.7 412.7 1188.3 415.3 1188.1C418.0 1187.9 424.9 1187.8 427.9 1187.8C430.9 1187.9 435.2 1188.2 437.9 1188.6C440.5 1188.9 445.2 1190.1 447.9 1190.6C450.5 1191.0 453.6 1191.7 457.9 1191.8C462.2 1192.0 474.1 1191.9 480.4 1191.8C486.8 1191.7 498.8 1191.2 505.4 1191.1C512.1 1190.9 522.8 1190.6 530.5 1190.6C538.1 1190.5 553.9 1190.6 562.6 1190.6C571.2 1190.5 589.8 1190.2 595.1 1190.3C600.4 1190.4 600.9 1191.3 602.6 1191.3C604.3 1191.4 606.3 1190.5 607.6 1190.6C608.9 1190.7 610.9 1191.7 612.6 1192.1C614.3 1192.4 618.6 1193.1 620.1 1193.1C621.6 1193.1 622.9 1191.9 623.9 1192.1C624.9 1192.3 626.3 1193.9 627.6 1194.6C629.0 1195.2 632.6 1196.3 633.9 1197.1C635.2 1197.9 636.3 1199.5 637.1 1200.6C638.0 1201.7 639.2 1204.4 640.1 1205.1C641.0 1205.8 643.1 1205.6 643.9 1205.6C644.7 1205.6 645.2 1204.7 645.9 1205.1C646.6 1205.5 648.0 1207.8 648.9 1208.8C649.8 1209.8 651.7 1212.1 652.7 1212.6C653.7 1213.1 655.6 1212.3 656.4 1212.6C657.2 1212.9 658.1 1214.4 658.9 1215.1C659.7 1215.8 661.3 1218.1 662.2 1218.1C663.0 1218.1 664.4 1216.3 665.2 1215.1C666.0 1213.9 667.3 1210.8 668.2 1208.8C669.0 1206.9 670.7 1202.2 671.4 1200.6C672.2 1199.0 673.3 1197.3 673.9 1197.1C674.6 1196.8 675.8 1197.9 676.4 1198.8C677.1 1199.7 678.2 1202.4 678.9 1203.8C679.7 1205.3 681.2 1208.4 681.9 1209.6C682.7 1210.8 683.8 1212.3 684.7 1212.6C685.6 1212.9 687.9 1212.2 688.9 1212.1C689.9 1212.0 691.4 1212.6 692.2 1212.1C693.0 1211.6 694.0 1209.3 694.7 1208.1C695.4 1206.9 697.0 1203.5 697.7 1203.1C698.4 1202.7 699.5 1204.4 700.2 1205.1C700.9 1205.8 702.5 1208.1 703.2 1208.1C703.9 1208.1 705.0 1205.9 705.7 1205.1C706.4 1204.3 707.4 1202.3 708.2 1201.8C709.0 1201.3 710.7 1201.3 711.5 1201.3C712.2 1201.3 713.3 1201.3 714.0 1201.8C714.6 1202.3 715.7 1204.1 716.5 1205.1C717.2 1206.1 719.1 1209.3 719.7 1209.6C720.4 1209.9 721.0 1208.9 721.5 1207.6C722.0 1206.3 722.9 1201.9 723.5 1200.1C724.1 1198.2 725.2 1194.9 726.0 1193.8C726.7 1192.7 727.9 1192.3 729.0 1191.8C730.1 1191.4 732.8 1190.9 734.0 1190.6C735.2 1190.2 736.7 1189.4 737.7 1189.1C738.7 1188.8 740.5 1188.1 741.5 1188.3C742.5 1188.6 744.1 1189.9 745.3 1190.8C746.4 1191.7 748.9 1194.0 750.3 1195.1C751.6 1196.1 753.9 1198.2 755.3 1198.8C756.6 1199.5 759.1 1199.7 760.3 1200.1C761.4 1200.4 762.9 1200.8 764.0 1201.3C765.2 1201.8 767.7 1203.3 769.0 1203.8C770.4 1204.3 772.9 1204.5 774.0 1205.1C775.2 1205.7 776.9 1207.3 777.8 1208.1C778.7 1208.9 780.0 1210.5 780.8 1210.8C781.6 1211.2 783.1 1210.9 784.0 1210.6C785.0 1210.3 786.8 1209.3 787.8 1208.8C788.8 1208.4 790.8 1206.8 791.5 1207.1C792.3 1207.4 792.8 1209.3 793.3 1211.3C793.8 1213.4 794.8 1219.8 795.3 1222.6C795.8 1225.4 796.6 1230.8 797.1 1232.6C797.6 1234.5 798.6 1236.2 799.1 1236.4C799.6 1236.5 800.3 1236.0 800.8 1233.9C801.3 1231.7 802.3 1224.3 802.8 1220.1C803.3 1215.9 804.3 1206.3 804.8 1202.6C805.3 1198.9 806.0 1194.4 806.6 1192.6C807.1 1190.7 808.1 1189.7 809.1 1188.8C810.1 1188.0 812.4 1186.9 814.1 1186.3C815.7 1185.8 819.4 1184.9 821.6 1184.6C823.7 1184.3 828.0 1184.0 830.3 1184.1C832.7 1184.1 837.3 1184.7 839.1 1185.1C840.9 1185.5 842.8 1186.6 844.1 1187.1C845.4 1187.6 847.6 1188.5 849.1 1188.8C850.6 1189.2 853.5 1189.3 855.4 1189.6C857.2 1189.8 860.9 1190.4 862.9 1190.8C864.9 1191.2 868.4 1192.1 870.4 1192.6C872.4 1193.0 875.7 1194.2 877.9 1194.3C880.1 1194.4 884.6 1193.6 886.6 1193.3C888.6 1193.0 891.2 1192.3 892.9 1192.1C894.6 1191.8 897.7 1191.7 899.2 1191.3C900.7 1191.0 902.8 1190.0 904.2 1189.6C905.5 1189.1 908.0 1188.0 909.2 1187.8C910.3 1187.7 911.8 1188.4 912.9 1188.3C914.0 1188.2 916.8 1187.2 917.4 1187.1"/>
<path d="M1074.6 471.8C1075.1 471.9 1077.8 472.1 1078.8 472.6C1079.9 473.0 1081.6 474.1 1082.6 475.1C1083.6 476.0 1085.4 478.6 1086.3 479.6C1087.3 480.6 1088.7 482.1 1089.6 482.6C1090.4 483.1 1091.9 482.5 1092.6 483.3C1093.3 484.2 1094.0 487.3 1094.6 488.8C1095.2 490.4 1096.2 494.1 1096.8 495.1C1097.5 496.1 1098.9 495.7 1099.6 496.3C1100.3 497.0 1101.2 499.1 1101.8 500.1C1102.4 501.1 1103.4 503.5 1104.1 503.8C1104.8 504.2 1106.2 503.1 1107.1 502.6C1108.0 502.1 1109.9 501.4 1110.9 500.1C1111.9 498.8 1113.7 494.6 1114.6 492.6C1115.5 490.6 1116.9 487.4 1117.6 485.1C1118.3 482.7 1119.5 477.3 1120.1 475.1C1120.7 472.8 1121.6 469.3 1122.1 468.3C1122.6 467.3 1123.4 467.0 1123.9 467.6C1124.3 468.1 1125.1 469.6 1125.6 472.6C1126.1 475.6 1127.1 485.4 1127.6 490.1C1128.2 494.8 1129.1 504.6 1129.6 507.6C1130.1 510.6 1130.9 512.4 1131.4 512.6C1131.8 512.8 1132.6 511.2 1133.1 508.9C1133.6 506.5 1134.5 498.9 1135.1 495.1C1135.7 491.3 1137.0 483.2 1137.6 480.1C1138.2 476.9 1139.1 472.8 1139.6 471.3C1140.1 469.8 1140.9 468.8 1141.4 468.8C1141.9 468.8 1142.7 470.1 1143.1 471.3C1143.6 472.5 1144.3 476.1 1144.6 477.6C1145.0 479.0 1145.3 482.1 1145.6 482.1C1146.0 482.1 1146.7 478.9 1147.1 477.6C1147.6 476.2 1148.4 472.3 1148.9 471.8C1149.4 471.3 1150.2 472.9 1150.6 473.8C1151.1 474.7 1151.7 478.3 1152.1 478.8C1152.6 479.3 1153.4 477.5 1153.9 477.6C1154.4 477.7 1155.1 478.2 1155.6 479.6C1156.2 480.9 1157.1 485.3 1157.7 487.6C1158.2 489.8 1159.0 494.3 1159.7 496.3C1160.3 498.3 1161.8 500.4 1162.7 502.6C1163.6 504.8 1165.4 509.3 1166.4 512.6C1167.4 515.9 1169.2 524.6 1170.2 527.6C1171.2 530.6 1172.9 532.3 1173.9 535.1C1174.9 538.0 1176.7 545.6 1177.7 548.9C1178.7 552.2 1180.3 557.2 1181.4 560.2C1182.6 563.2 1185.1 568.2 1186.4 571.4C1187.8 574.6 1190.2 580.9 1191.4 583.9C1192.7 586.9 1194.8 592.3 1195.7 593.9C1196.6 595.6 1197.5 596.4 1198.2 596.4C1198.9 596.4 1199.9 595.3 1200.7 593.9C1201.5 592.6 1202.8 588.9 1203.9 586.4C1205.1 583.9 1207.8 578.3 1209.0 575.2C1210.1 572.0 1211.7 566.5 1212.7 562.7C1213.7 558.8 1215.5 550.7 1216.5 546.4C1217.5 542.1 1219.4 533.7 1220.2 530.1C1221.1 526.6 1222.2 521.3 1222.7 519.6C1223.2 517.9 1223.6 516.9 1224.0 517.1C1224.3 517.3 1224.9 518.0 1225.2 521.4C1225.6 524.8 1226.3 535.5 1226.7 542.6C1227.1 549.8 1227.8 566.5 1228.2 575.2C1228.6 583.8 1229.3 600.7 1229.7 607.7C1230.2 614.7 1231.0 622.9 1231.5 627.7C1231.9 632.6 1232.8 641.7 1233.2 644.0C1233.7 646.3 1234.4 646.4 1234.7 645.2C1235.1 644.1 1235.6 642.6 1236.0 635.2C1236.3 627.9 1236.9 602.5 1237.2 590.2C1237.6 577.8 1238.2 552.3 1238.5 542.6C1238.8 533.0 1239.3 521.9 1239.7 517.6C1240.1 513.3 1240.8 511.4 1241.5 510.1C1242.2 508.8 1244.1 508.1 1245.2 507.6C1246.3 507.1 1248.6 506.5 1249.7 506.6C1250.9 506.7 1252.8 507.4 1254.0 508.1C1255.2 508.8 1257.7 510.8 1259.0 512.1C1260.3 513.4 1262.8 515.9 1264.0 517.6C1265.2 519.3 1266.8 523.2 1267.8 525.1C1268.8 527.1 1270.5 530.7 1271.5 532.1C1272.5 533.6 1274.2 534.9 1275.3 535.9C1276.4 536.8 1278.8 538.9 1279.8 539.4C1280.8 539.9 1282.0 539.8 1282.8 539.6C1283.5 539.5 1284.4 538.2 1285.3 538.4C1286.1 538.5 1287.9 540.3 1289.0 540.9C1290.2 541.5 1292.9 542.6 1294.0 543.1C1295.1 543.7 1296.5 544.1 1297.3 545.1C1298.1 546.1 1299.2 549.6 1299.8 550.6C1300.4 551.7 1301.0 553.2 1301.5 553.1C1302.1 553.1 1303.1 551.5 1303.6 550.1C1304.1 548.7 1304.7 543.8 1305.3 542.6C1305.9 541.5 1307.2 541.4 1307.8 541.4C1308.4 541.4 1309.1 542.8 1309.6 542.6C1310.1 542.5 1311.1 541.8 1311.6 540.1C1312.1 538.5 1312.8 531.8 1313.3 530.1C1313.8 528.5 1314.8 527.7 1315.3 527.6C1315.8 527.6 1316.7 528.8 1317.3 529.6C1317.9 530.5 1319.1 532.9 1319.8 533.9C1320.6 534.9 1322.1 537.0 1322.8 537.1C1323.6 537.3 1324.7 536.0 1325.3 535.1C1325.9 534.3 1326.8 531.6 1327.3 530.9C1327.8 530.1 1328.5 529.4 1329.1 529.6C1329.6 529.9 1330.8 531.9 1331.6 532.6C1332.3 533.4 1333.7 535.1 1334.6 535.1C1335.4 535.2 1336.9 534.3 1337.8 533.1C1338.8 532.0 1340.6 528.2 1341.6 526.4C1342.6 524.6 1344.3 521.1 1345.3 519.6C1346.3 518.1 1347.9 516.1 1349.1 515.1C1350.3 514.1 1352.9 512.5 1354.1 511.9C1355.3 511.3 1356.9 510.5 1357.9 510.6C1358.9 510.7 1360.4 511.8 1361.6 512.6C1362.8 513.4 1365.3 515.3 1366.6 516.4C1368.0 517.4 1370.3 519.5 1371.6 520.6C1373.0 521.7 1375.6 524.4 1376.6 524.6C1377.6 524.8 1378.5 523.0 1379.1 522.1C1379.8 521.2 1381.0 518.4 1381.6 517.6C1382.3 516.8 1383.3 516.6 1384.1 516.4C1385.0 516.1 1386.7 516.4 1387.9 515.9C1389.1 515.4 1391.6 513.3 1392.9 512.6C1394.2 511.9 1396.6 511.3 1397.9 510.9C1399.2 510.5 1401.6 510.4 1402.9 509.6C1404.2 508.8 1405.6 506.2 1407.9 504.6C1410.2 503.0 1416.8 499.7 1420.4 497.6C1424.1 495.5 1431.4 491.3 1435.4 488.8C1439.4 486.3 1446.8 481.2 1450.5 478.8C1454.1 476.4 1460.6 472.0 1463.0 470.8C1465.3 469.6 1466.3 470.2 1468.0 470.1C1469.6 470.0 1474.4 470.1 1475.5 470.1C1476.6 470.1 1475.3 470.2 1476.0 470.1C1476.8 470.0 1480.0 469.6 1481.0 469.3C1482.1 469.0 1483.4 468.0 1484.0 468.1C1484.7 468.2 1485.5 469.0 1486.0 470.1C1486.6 471.2 1487.5 474.9 1488.0 476.3C1488.6 477.8 1489.7 480.7 1490.3 480.8C1490.9 481.0 1491.8 478.8 1492.3 477.6C1492.8 476.3 1493.4 472.7 1494.0 471.3C1494.7 469.9 1496.4 467.4 1497.3 467.1C1498.2 466.7 1500.0 468.4 1501.0 468.8C1502.0 469.2 1503.7 470.1 1504.8 470.1C1505.9 470.0 1507.7 468.6 1509.1 468.3C1510.4 468.0 1513.4 467.7 1514.8 468.1C1516.2 468.4 1518.5 470.4 1519.8 470.8C1521.2 471.2 1523.3 471.0 1524.8 471.3C1526.3 471.6 1529.6 472.5 1531.1 473.1C1532.6 473.6 1534.9 475.6 1536.1 475.6C1537.3 475.5 1539.0 473.0 1539.8 472.6C1540.7 472.1 1541.6 471.7 1542.3 472.1C1543.1 472.5 1544.8 475.3 1545.6 475.6C1546.4 475.8 1547.9 473.7 1548.6 473.8C1549.3 473.9 1550.4 475.3 1551.1 476.3C1551.8 477.3 1553.4 481.2 1554.1 481.3C1554.8 481.5 1555.6 478.1 1556.1 477.6C1556.6 477.0 1557.6 476.7 1558.1 477.1C1558.6 477.4 1559.3 479.0 1559.9 480.1C1560.4 481.1 1561.5 484.3 1562.4 485.1C1563.2 485.8 1565.3 485.9 1566.1 485.8C1566.9 485.8 1568.0 484.7 1568.6 484.6C1569.2 484.5 1570.1 484.5 1570.6 485.1C1571.1 485.6 1571.8 487.5 1572.4 488.8C1572.9 490.2 1574.2 493.8 1574.9 495.1C1575.5 496.4 1576.9 497.8 1577.4 498.8C1577.9 499.8 1578.3 500.4 1578.6 502.6C1579.0 504.8 1579.5 509.1 1579.9 515.1C1580.2 521.1 1580.8 536.3 1581.1 547.6C1581.5 559.0 1582.0 586.8 1582.4 600.2C1582.7 613.5 1583.3 637.7 1583.6 647.7C1584.0 657.8 1584.6 670.3 1584.9 675.3C1585.1 680.3 1585.4 684.6 1585.6 685.3C1585.9 686.0 1586.3 684.3 1586.6 680.3C1586.9 676.3 1587.6 664.6 1587.9 655.3C1588.2 645.9 1588.8 621.6 1589.1 610.2C1589.5 598.9 1590.1 579.5 1590.4 570.2C1590.7 560.8 1591.3 545.9 1591.6 540.1C1592.0 534.4 1592.5 529.1 1592.9 527.1C1593.3 525.2 1594.0 525.6 1594.4 525.6C1594.8 525.6 1595.6 527.1 1596.1 527.1C1596.7 527.1 1598.0 526.4 1598.6 525.6C1599.3 524.9 1600.5 522.3 1601.1 521.4C1601.7 520.5 1602.8 518.8 1603.2 518.9C1603.6 519.0 1603.9 519.3 1604.2 522.1C1604.5 525.0 1605.0 534.4 1605.4 540.1C1605.8 545.9 1606.5 560.2 1606.9 565.2C1607.3 570.1 1607.8 576.2 1608.2 577.2C1608.5 578.2 1609.1 575.9 1609.4 572.7C1609.7 569.4 1610.3 558.0 1610.7 552.6C1611.0 547.3 1611.8 535.8 1612.2 532.6C1612.6 529.5 1613.2 529.0 1613.7 528.9C1614.1 528.7 1614.9 530.4 1615.4 531.4C1615.9 532.4 1616.9 535.4 1617.4 536.4C1617.9 537.4 1618.7 539.0 1619.2 538.9C1619.7 538.7 1620.7 535.3 1621.2 535.1C1621.7 535.0 1622.5 535.6 1622.9 537.6C1623.3 539.6 1623.8 546.6 1624.2 550.1C1624.5 553.6 1625.3 561.5 1625.7 563.9C1626.0 566.3 1626.6 568.9 1626.9 568.4C1627.3 567.9 1627.8 564.3 1628.2 560.2C1628.5 556.1 1629.3 543.3 1629.7 537.6C1630.1 532.0 1630.8 521.3 1631.2 517.6C1631.6 513.9 1632.3 511.2 1632.7 510.1C1633.0 509.0 1633.6 508.9 1633.9 509.6C1634.3 510.3 1634.8 511.7 1635.2 515.1C1635.6 518.5 1636.3 528.5 1636.7 535.1C1637.1 541.8 1637.8 555.8 1638.2 565.2C1638.6 574.5 1639.3 595.2 1639.7 605.2C1640.1 615.2 1640.8 633.1 1641.2 640.2C1641.6 647.4 1642.4 656.2 1642.7 659.0C1643.0 661.8 1643.4 662.0 1643.7 661.5C1644.0 661.0 1644.6 659.4 1644.9 655.3C1645.3 651.1 1645.8 638.9 1646.2 630.2C1646.6 621.6 1647.3 601.5 1647.7 590.2C1648.1 578.8 1648.8 554.8 1649.2 545.1C1649.6 535.5 1650.1 521.9 1650.5 517.6C1650.8 513.3 1651.4 512.9 1651.7 512.6C1652.0 512.3 1652.6 512.8 1653.0 515.1C1653.3 517.4 1653.8 525.5 1654.2 530.1C1654.6 534.8 1655.3 546.1 1655.7 550.1C1656.1 554.1 1656.6 558.7 1657.0 560.2C1657.3 561.6 1657.9 561.9 1658.2 560.9C1658.5 559.9 1659.1 556.4 1659.5 552.6C1659.8 548.9 1660.4 536.3 1660.7 532.6C1661.0 529.0 1661.4 525.6 1661.7 525.1C1662.0 524.6 1662.6 524.2 1663.0 528.9C1663.3 533.5 1663.9 548.0 1664.2 560.2C1664.5 572.3 1665.1 604.2 1665.5 620.2C1665.8 636.2 1666.4 668.8 1666.7 680.3C1667.0 691.8 1667.5 704.2 1667.7 706.6C1668.0 708.9 1668.5 704.6 1668.7 697.8C1669.0 691.0 1669.5 668.3 1669.7 655.3C1670.0 642.2 1670.5 614.2 1670.7 600.2C1671.0 586.2 1671.5 559.3 1671.7 550.1C1672.0 541.0 1672.5 534.0 1672.7 531.4C1673.0 528.7 1673.5 529.3 1673.7 530.1C1674.0 531.0 1674.5 534.6 1674.7 537.6C1675.0 540.6 1675.5 549.5 1675.7 552.6C1676.0 555.8 1676.4 560.5 1676.7 561.4C1677.0 562.3 1677.6 561.2 1678.0 559.7C1678.3 558.2 1679.0 553.1 1679.5 550.1C1679.9 547.2 1680.7 541.3 1681.2 537.6C1681.7 534.0 1682.7 526.1 1683.2 522.6C1683.7 519.1 1684.5 513.4 1685.0 511.4C1685.5 509.4 1686.2 508.0 1686.7 507.6C1687.2 507.2 1688.3 507.1 1688.7 508.1C1689.2 509.1 1689.7 511.5 1690.0 515.1C1690.3 518.7 1690.9 529.8 1691.2 535.1C1691.6 540.5 1692.2 551.3 1692.5 555.1C1692.8 559.0 1693.4 563.6 1693.7 563.9C1694.1 564.2 1694.7 562.5 1695.0 557.7C1695.3 552.8 1695.9 536.0 1696.2 527.6C1696.6 519.3 1697.2 501.8 1697.5 495.1C1697.8 488.4 1698.4 480.5 1698.7 477.6C1699.1 474.6 1699.8 473.6 1700.3 473.1C1700.8 472.6 1701.9 473.8 1702.5 473.8C1703.1 473.8 1704.4 473.5 1705.0 473.3C1705.6 473.1 1706.6 471.3 1707.0 472.6C1707.4 473.8 1707.9 476.9 1708.3 482.6C1708.6 488.2 1709.2 502.1 1709.5 515.1C1709.8 528.1 1710.4 561.5 1710.8 580.2C1711.1 598.9 1711.7 636.2 1712.0 655.3C1712.3 674.3 1713.0 709.8 1713.3 722.8C1713.6 735.8 1714.0 749.8 1714.3 752.9C1714.5 755.9 1715.0 754.4 1715.3 745.3C1715.5 736.3 1716.0 705.0 1716.3 685.3C1716.5 665.6 1717.0 618.7 1717.3 597.7C1717.5 576.7 1718.0 542.0 1718.3 527.6C1718.6 513.3 1719.2 496.3 1719.5 490.1C1719.9 483.9 1720.3 482.8 1720.8 481.3C1721.3 479.8 1722.6 479.6 1723.3 478.8C1723.9 478.1 1725.1 476.2 1725.8 475.6C1726.4 474.9 1727.7 473.7 1728.3 473.8C1728.8 473.9 1729.6 475.3 1730.0 476.3C1730.5 477.3 1731.3 480.0 1731.8 481.3C1732.2 482.7 1732.8 485.3 1733.3 486.3C1733.8 487.3 1735.2 488.2 1735.8 488.8C1736.4 489.5 1737.1 489.2 1737.5 491.3C1737.9 493.5 1738.5 500.3 1738.8 505.1C1739.1 509.9 1739.7 522.1 1740.0 527.6C1740.4 533.1 1741.0 542.9 1741.3 546.4C1741.6 549.9 1742.2 553.7 1742.5 553.9C1742.9 554.1 1743.5 551.1 1743.8 547.6C1744.1 544.1 1744.7 532.8 1745.0 527.6C1745.4 522.4 1746.0 512.1 1746.3 508.9C1746.6 505.6 1747.2 503.6 1747.5 503.1C1747.9 502.6 1748.4 503.8 1748.8 505.1C1749.2 506.4 1749.9 510.3 1750.3 512.6C1750.7 514.9 1751.4 520.6 1751.8 522.6C1752.2 524.6 1752.9 527.1 1753.3 527.6C1753.7 528.1 1754.2 528.0 1754.6 526.4C1754.9 524.7 1755.4 519.3 1755.8 515.1C1756.2 510.9 1757.1 499.6 1757.6 495.1C1758.1 490.6 1759.0 483.8 1759.6 481.3C1760.1 478.8 1761.2 477.1 1761.8 476.3C1762.4 475.6 1763.3 475.2 1763.8 475.6C1764.3 475.9 1765.1 477.2 1765.6 478.8C1766.0 480.4 1766.6 485.5 1767.1 487.6C1767.5 489.7 1768.4 494.3 1768.8 494.6C1769.3 494.9 1769.9 492.4 1770.3 490.1C1770.7 487.8 1771.4 480.1 1771.8 477.6C1772.3 475.1 1773.2 472.4 1773.8 471.3C1774.4 470.2 1775.5 469.7 1776.3 469.3C1777.2 468.9 1779.1 468.5 1780.1 468.1C1781.1 467.7 1783.1 466.2 1783.8 466.3C1784.6 466.4 1785.4 467.3 1785.8 468.8C1786.3 470.3 1786.8 474.4 1787.1 477.6C1787.4 480.7 1788.0 489.0 1788.3 492.6C1788.7 496.2 1789.3 502.8 1789.6 504.6C1789.9 506.4 1790.5 507.6 1790.8 506.3C1791.2 505.1 1791.8 498.3 1792.1 495.1C1792.4 491.9 1793.0 484.1 1793.3 482.1C1793.7 480.1 1794.3 479.0 1794.6 480.1C1794.9 481.1 1795.5 486.4 1795.8 490.1C1796.2 493.8 1796.8 503.7 1797.1 507.6C1797.4 511.5 1798.0 517.7 1798.4 519.6C1798.7 521.5 1799.2 522.4 1799.6 522.1C1800.0 521.8 1800.9 518.9 1801.4 517.6C1801.9 516.3 1802.8 513.4 1803.4 512.6C1804.0 511.8 1805.3 511.2 1805.9 511.4C1806.4 511.5 1807.1 512.2 1807.6 513.9C1808.1 515.5 1808.9 521.4 1809.4 523.9C1809.8 526.3 1810.5 531.0 1810.9 532.1C1811.2 533.3 1811.8 533.9 1812.1 532.6C1812.5 531.4 1813.0 525.3 1813.4 522.6C1813.7 519.9 1814.5 514.2 1814.9 512.6C1815.3 511.0 1816.0 510.2 1816.4 510.9C1816.7 511.5 1817.3 515.0 1817.6 517.6C1818.0 520.2 1818.5 528.2 1818.9 530.1C1819.2 532.1 1819.8 533.5 1820.1 532.1C1820.5 530.8 1821.0 525.1 1821.4 520.1C1821.7 515.2 1822.2 500.8 1822.6 495.1C1823.0 489.4 1823.9 480.6 1824.4 477.6C1824.9 474.5 1825.9 472.2 1826.4 472.1C1826.9 471.9 1827.7 474.6 1828.1 476.3C1828.6 478.1 1829.2 482.9 1829.6 485.1C1830.1 487.2 1830.9 491.2 1831.4 492.6C1831.9 494.0 1832.9 495.8 1833.4 495.6C1833.9 495.4 1834.9 493.1 1835.4 491.3C1835.9 489.6 1836.8 484.5 1837.4 482.6C1838.0 480.7 1839.0 478.1 1839.6 477.1C1840.2 476.1 1841.3 475.1 1841.9 475.1C1842.5 475.1 1843.4 476.2 1843.9 477.1C1844.4 477.9 1845.3 480.3 1845.9 481.3C1846.5 482.3 1847.8 484.6 1848.4 484.6C1849.0 484.6 1849.8 483.4 1850.2 481.3C1850.6 479.2 1851.2 470.5 1851.4 468.8"/>
<path d="M1075.1 760.5C1075.5 760.6 1077.3 760.5 1078.1 761.3C1078.8 762.0 1079.9 764.3 1080.6 766.3C1081.2 768.3 1082.4 773.6 1083.1 776.3C1083.8 779.0 1085.1 783.6 1085.8 786.3C1086.6 789.0 1088.0 793.7 1088.8 796.3C1089.7 798.9 1091.4 803.1 1092.1 805.6C1092.8 808.1 1093.4 812.0 1093.8 815.1C1094.3 818.2 1095.1 825.4 1095.6 828.8C1096.1 832.3 1097.0 839.0 1097.6 840.9C1098.2 842.7 1099.5 841.0 1100.1 842.6C1100.7 844.2 1101.3 849.3 1101.8 852.6C1102.3 856.0 1103.3 864.1 1103.8 867.6C1104.4 871.1 1105.3 876.9 1105.8 878.9C1106.3 880.9 1107.0 882.3 1107.6 882.6C1108.2 883.0 1109.4 882.4 1110.1 881.4C1110.8 880.4 1112.4 876.6 1113.1 875.1C1113.8 873.7 1114.9 871.6 1115.6 870.6C1116.3 869.6 1117.6 869.7 1118.1 867.6C1118.6 865.6 1119.2 859.1 1119.6 855.1C1120.0 851.1 1120.5 841.8 1120.9 837.6C1121.2 833.4 1121.8 826.2 1122.1 823.8C1122.4 821.4 1123.0 819.6 1123.4 819.6C1123.7 819.6 1124.3 821.1 1124.6 823.8C1125.0 826.6 1125.5 833.6 1125.9 840.1C1126.2 846.6 1126.8 863.3 1127.1 872.6C1127.5 882.0 1128.0 901.8 1128.4 910.2C1128.7 918.5 1129.3 930.4 1129.6 935.2C1130.0 940.0 1130.6 944.7 1130.9 946.5C1131.2 948.2 1131.6 948.7 1131.9 948.2C1132.1 947.7 1132.6 946.4 1132.9 942.7C1133.2 939.0 1133.8 926.5 1134.1 920.2C1134.5 913.8 1135.2 901.2 1135.6 895.2C1136.0 889.2 1136.7 879.5 1137.1 875.1C1137.6 870.8 1138.4 865.1 1138.9 862.6C1139.3 860.1 1140.2 856.8 1140.6 856.4C1141.1 856.0 1141.8 857.5 1142.1 859.6C1142.5 861.8 1143.1 868.9 1143.4 872.6C1143.7 876.4 1144.3 884.6 1144.6 887.7C1145.0 890.7 1145.6 895.3 1145.9 895.7C1146.2 896.0 1146.8 892.9 1147.1 890.2C1147.5 887.4 1148.2 877.6 1148.6 875.1C1149.0 872.6 1149.8 870.9 1150.1 871.4C1150.5 871.9 1151.1 877.0 1151.4 878.9C1151.7 880.8 1152.1 885.9 1152.4 885.6C1152.7 885.4 1153.5 879.0 1153.9 877.1C1154.3 875.2 1155.2 871.4 1155.6 871.4C1156.1 871.4 1156.8 875.3 1157.2 877.1C1157.5 879.0 1157.9 883.5 1158.2 885.1C1158.4 886.8 1158.9 889.6 1159.2 889.4C1159.5 889.2 1160.1 886.1 1160.4 883.9C1160.7 881.7 1161.4 875.3 1161.7 872.6C1162.0 870.0 1162.3 866.0 1162.7 863.9C1163.1 861.7 1164.1 858.6 1164.7 856.4C1165.3 854.1 1166.6 848.6 1167.2 847.1C1167.7 845.6 1168.4 844.9 1168.9 845.1C1169.4 845.3 1170.2 848.6 1170.7 848.9C1171.1 849.1 1171.8 848.9 1172.2 847.1C1172.6 845.3 1173.3 838.4 1173.7 835.1C1174.1 831.8 1174.7 825.1 1175.2 822.6C1175.6 820.1 1176.5 817.8 1177.2 816.3C1177.8 814.8 1179.3 813.2 1180.2 811.3C1181.1 809.5 1182.9 805.0 1183.9 802.6C1184.9 800.1 1186.7 795.7 1187.7 793.1C1188.7 790.5 1190.6 784.9 1191.4 783.0C1192.3 781.1 1193.3 779.4 1193.9 778.8C1194.6 778.2 1195.8 779.3 1196.4 778.8C1197.1 778.3 1198.1 776.3 1198.9 775.0C1199.8 773.8 1201.9 770.6 1202.7 769.5C1203.5 768.5 1204.5 767.4 1205.2 767.0C1205.9 766.7 1207.0 767.5 1207.7 767.0C1208.4 766.6 1209.5 764.5 1210.2 763.8C1210.9 763.0 1212.1 761.5 1212.7 761.3C1213.3 761.0 1214.2 762.1 1214.7 762.0C1215.2 761.9 1215.8 760.6 1216.5 760.5C1217.1 760.5 1218.9 760.8 1219.7 761.5C1220.5 762.3 1221.8 764.9 1222.7 766.3C1223.6 767.7 1225.5 770.5 1226.5 772.0C1227.5 773.6 1229.2 776.0 1230.2 778.0C1231.2 780.1 1233.0 785.2 1234.0 787.5C1235.0 789.9 1236.7 792.9 1237.7 795.6C1238.7 798.2 1240.5 804.6 1241.5 807.6C1242.5 810.5 1244.1 814.9 1245.2 817.6C1246.4 820.2 1248.7 824.4 1250.2 827.6C1251.7 830.8 1255.0 838.5 1256.5 841.4C1258.0 844.2 1260.3 846.9 1261.5 848.9C1262.7 850.9 1264.3 854.5 1265.3 856.4C1266.3 858.2 1268.0 861.5 1269.0 862.6C1270.0 863.8 1271.7 864.7 1272.8 865.1C1273.9 865.6 1276.1 866.0 1277.3 865.9C1278.4 865.8 1280.5 865.1 1281.5 864.4C1282.6 863.7 1284.3 861.9 1285.3 860.6C1286.3 859.4 1288.1 857.0 1289.0 855.1C1290.0 853.2 1291.5 849.2 1292.3 846.4C1293.1 843.5 1294.6 836.5 1295.3 833.8C1296.0 831.2 1297.2 827.6 1297.8 826.3C1298.4 825.1 1299.3 824.6 1299.8 824.6C1300.3 824.6 1301.1 825.9 1301.5 826.3C1302.0 826.8 1302.8 828.1 1303.3 828.1C1303.8 828.1 1304.8 826.6 1305.3 826.3C1305.8 826.1 1306.7 825.2 1307.1 826.3C1307.4 827.5 1307.5 831.6 1307.8 835.1C1308.1 838.6 1308.7 847.9 1309.1 852.6C1309.5 857.3 1310.4 866.5 1310.8 870.1C1311.2 873.8 1311.9 878.4 1312.3 880.1C1312.7 881.9 1313.2 883.3 1313.6 883.4C1314.0 883.5 1314.8 881.7 1315.3 880.6C1315.8 879.5 1316.7 876.2 1317.3 875.1C1317.9 874.1 1319.2 873.0 1319.8 872.6C1320.5 872.3 1321.7 872.2 1322.3 872.6C1323.0 873.0 1324.3 875.0 1324.8 875.6C1325.4 876.3 1326.2 878.0 1326.6 877.6C1327.0 877.2 1327.4 875.6 1327.8 872.6C1328.2 869.6 1329.1 860.1 1329.6 855.1C1330.0 850.1 1330.7 839.1 1331.1 835.1C1331.5 831.1 1332.2 826.6 1332.6 825.1C1332.9 823.6 1333.5 823.0 1333.8 823.8C1334.2 824.7 1334.7 828.7 1335.1 831.3C1335.5 834.0 1336.1 840.9 1336.6 843.9C1337.1 846.9 1337.9 851.6 1338.6 853.9C1339.3 856.1 1340.7 859.4 1341.6 860.9C1342.5 862.4 1344.2 864.2 1345.3 865.1C1346.5 866.1 1349.0 867.7 1350.4 868.1C1351.7 868.6 1354.0 868.5 1355.4 868.4C1356.7 868.2 1358.9 867.6 1360.4 866.9C1361.9 866.2 1364.8 864.3 1366.6 863.1C1368.5 862.0 1372.1 859.6 1374.1 858.1C1376.1 856.7 1379.5 853.6 1381.6 852.1C1383.8 850.6 1388.2 848.4 1390.4 847.1C1392.6 845.8 1395.2 843.9 1397.9 842.6C1400.6 841.3 1406.1 839.5 1410.4 837.6C1414.7 835.7 1425.1 830.6 1430.4 828.1C1435.8 825.6 1445.4 821.1 1450.5 818.8C1455.5 816.5 1463.9 812.4 1468.0 810.8C1472.0 809.3 1477.3 808.3 1481.0 807.1C1484.8 805.8 1493.0 802.6 1496.0 801.3C1499.0 800.0 1501.9 798.6 1503.5 797.6C1505.2 796.5 1507.4 793.8 1508.6 793.3C1509.7 792.8 1511.4 793.9 1512.3 793.8C1513.2 793.7 1514.7 792.6 1515.6 792.6C1516.4 792.6 1517.7 794.3 1518.6 793.8C1519.5 793.3 1521.5 789.6 1522.3 788.8C1523.2 788.0 1524.0 787.6 1524.8 787.5C1525.7 787.4 1527.6 788.2 1528.6 788.0C1529.6 787.9 1531.5 786.1 1532.3 786.3C1533.2 786.5 1534.2 789.5 1534.8 789.3C1535.5 789.1 1536.7 785.9 1537.3 784.5C1538.0 783.1 1539.2 779.9 1539.8 778.8C1540.5 777.7 1541.8 776.3 1542.3 776.3C1542.9 776.3 1543.6 777.9 1544.1 778.8C1544.6 779.7 1545.6 782.9 1546.1 783.0C1546.6 783.2 1547.6 781.0 1548.1 780.0C1548.6 779.0 1549.4 775.5 1549.8 775.5C1550.3 775.5 1551.1 778.7 1551.6 780.0C1552.1 781.4 1553.1 785.4 1553.6 785.5C1554.1 785.7 1554.9 783.4 1555.4 781.3C1555.8 779.2 1556.5 772.4 1556.9 770.0C1557.2 767.7 1557.8 764.7 1558.1 763.8C1558.4 762.9 1559.0 762.6 1559.4 763.3C1559.7 763.9 1560.3 766.9 1560.6 768.8C1560.9 770.7 1561.5 775.5 1561.9 777.5C1562.3 779.5 1563.1 782.7 1563.6 783.8C1564.1 784.9 1565.0 784.2 1565.6 785.5C1566.2 786.9 1567.3 791.0 1567.9 793.8C1568.4 796.6 1569.4 802.8 1569.9 806.3C1570.3 809.8 1570.8 815.6 1571.1 820.1C1571.5 824.6 1572.0 834.8 1572.4 840.1C1572.7 845.4 1573.3 855.1 1573.6 860.1C1574.0 865.1 1574.6 874.3 1574.9 877.6C1575.1 881.0 1575.3 884.3 1575.6 885.1C1576.0 886.0 1577.0 884.1 1577.4 883.9C1577.8 883.7 1578.3 882.2 1578.6 883.4C1579.0 884.6 1579.5 889.4 1579.9 892.7C1580.2 895.9 1580.8 903.8 1581.1 907.7C1581.5 911.5 1582.0 918.6 1582.4 921.4C1582.7 924.3 1583.3 928.3 1583.6 928.9C1584.0 929.6 1584.7 927.8 1585.1 926.4C1585.5 925.1 1586.2 920.5 1586.6 918.9C1587.0 917.4 1587.7 915.2 1588.1 914.7C1588.6 914.2 1589.5 914.3 1589.9 915.2C1590.3 916.1 1590.8 918.9 1591.1 921.4C1591.5 923.9 1592.2 930.1 1592.6 933.9C1593.0 937.8 1593.7 946.4 1594.1 950.2C1594.5 954.1 1595.2 960.5 1595.6 962.7C1596.0 965.0 1596.7 966.8 1597.1 967.0C1597.5 967.2 1598.2 965.9 1598.6 964.0C1599.0 962.1 1599.7 955.9 1600.1 952.7C1600.5 949.5 1601.2 943.2 1601.6 940.2C1602.1 937.2 1602.7 932.0 1603.2 930.2C1603.6 928.4 1604.7 926.8 1605.2 926.4C1605.7 926.0 1606.5 926.0 1606.9 927.2C1607.3 928.4 1607.8 931.5 1608.2 935.2C1608.5 938.9 1609.3 949.2 1609.7 955.2C1610.1 961.2 1610.8 972.2 1611.2 980.2C1611.6 988.3 1612.3 1006.3 1612.7 1015.3C1613.1 1024.3 1613.8 1040.5 1614.2 1047.8C1614.6 1055.2 1615.3 1065.8 1615.7 1070.3C1616.0 1074.8 1616.6 1079.9 1616.9 1081.6C1617.2 1083.3 1617.8 1083.9 1618.2 1083.4C1618.5 1082.9 1619.1 1080.3 1619.4 1077.8C1619.8 1075.4 1620.3 1067.5 1620.7 1065.3C1621.0 1063.2 1621.6 1061.4 1621.9 1061.6C1622.3 1061.7 1622.8 1065.3 1623.2 1066.6C1623.5 1067.9 1624.1 1070.6 1624.4 1071.6C1624.8 1072.6 1625.4 1074.9 1625.7 1074.1C1626.0 1073.3 1626.4 1069.8 1626.7 1065.3C1626.9 1060.8 1627.4 1047.0 1627.7 1040.3C1627.9 1033.6 1628.4 1022.3 1628.7 1015.3C1629.0 1008.3 1629.6 993.1 1629.9 987.8C1630.3 982.4 1630.8 977.3 1631.2 975.2C1631.5 973.2 1632.1 972.1 1632.4 972.2C1632.8 972.4 1633.3 974.1 1633.7 976.5C1634.0 978.9 1634.6 987.3 1634.9 990.3C1635.3 993.3 1635.9 997.7 1636.2 999.0C1636.5 1000.4 1637.1 1001.4 1637.4 1000.3C1637.8 999.1 1638.4 993.9 1638.7 990.3C1639.0 986.6 1639.6 976.9 1639.9 972.7C1640.3 968.6 1640.9 961.1 1641.2 959.0C1641.5 956.8 1642.1 956.6 1642.4 956.5C1642.8 956.3 1643.4 957.6 1643.7 957.7C1644.0 957.8 1644.6 958.6 1644.9 957.2C1645.3 955.9 1645.8 950.1 1646.2 947.7C1646.6 945.3 1647.3 940.1 1647.7 939.0C1648.1 937.8 1648.6 937.8 1648.9 939.0C1649.3 940.1 1649.8 944.5 1650.2 947.7C1650.6 950.9 1651.3 959.9 1651.7 962.7C1652.1 965.6 1652.8 968.5 1653.2 969.0C1653.6 969.5 1654.3 968.0 1654.7 966.5C1655.1 965.0 1655.7 960.4 1656.2 957.7C1656.7 955.1 1657.7 948.8 1658.2 946.5C1658.7 944.1 1659.7 941.2 1660.2 940.2C1660.7 939.2 1661.5 939.0 1662.0 939.0C1662.4 939.0 1663.2 940.3 1663.7 940.2C1664.2 940.1 1665.1 938.7 1665.7 938.2C1666.3 937.7 1667.6 936.6 1668.2 936.5C1668.9 936.3 1670.1 937.2 1670.7 937.2C1671.4 937.2 1672.6 936.2 1673.2 936.5C1673.8 936.8 1674.7 938.1 1675.2 939.5C1675.8 940.8 1676.9 944.0 1677.5 946.5C1678.0 948.9 1679.0 954.7 1679.5 957.7C1680.0 960.7 1680.7 966.3 1681.2 969.0C1681.7 971.7 1682.7 976.3 1683.2 977.7C1683.7 979.2 1684.4 979.6 1685.0 979.7C1685.6 979.9 1686.9 979.1 1687.5 979.0C1688.1 978.9 1688.8 978.8 1689.2 979.0C1689.7 979.2 1690.3 980.7 1690.7 980.7C1691.2 980.7 1692.0 980.1 1692.5 979.0C1693.0 977.9 1693.9 974.4 1694.5 972.7C1695.1 971.1 1696.2 968.0 1696.7 966.5C1697.3 965.0 1698.1 962.8 1698.7 961.5C1699.4 960.1 1700.6 957.5 1701.3 956.5C1701.9 955.5 1703.2 954.5 1703.8 954.0C1704.4 953.5 1705.3 953.6 1705.8 952.7C1706.3 951.9 1707.0 949.2 1707.5 947.7C1708.0 946.2 1708.8 943.0 1709.3 941.5C1709.8 940.0 1710.8 937.0 1711.3 936.5C1711.8 936.0 1712.5 937.0 1713.0 937.7C1713.5 938.4 1714.5 940.6 1715.0 941.5C1715.5 942.4 1716.3 944.2 1716.8 944.5C1717.3 944.7 1718.2 944.1 1718.8 943.2C1719.4 942.3 1720.6 939.1 1721.3 937.7C1721.9 936.3 1723.2 934.4 1723.8 932.7C1724.3 931.0 1724.9 928.9 1725.3 925.2C1725.6 921.5 1726.0 912.5 1726.3 905.2C1726.5 897.8 1727.0 879.5 1727.3 870.1C1727.5 860.8 1728.0 844.8 1728.3 835.1C1728.6 825.4 1729.2 806.2 1729.5 797.6C1729.9 788.9 1730.5 774.9 1730.8 770.0C1731.1 765.2 1731.5 762.4 1731.8 761.3C1732.1 760.1 1732.5 759.8 1732.8 761.3C1733.1 762.8 1733.5 766.7 1733.8 772.5C1734.1 778.4 1734.5 794.4 1734.8 805.1C1735.1 815.7 1735.7 840.6 1736.0 852.6C1736.4 864.6 1737.0 885.1 1737.3 895.2C1737.6 905.2 1738.2 921.7 1738.5 927.7C1738.9 933.7 1739.5 938.3 1739.8 940.2C1740.1 942.1 1740.4 942.4 1740.8 942.2C1741.2 942.0 1742.0 940.6 1742.5 939.0C1743.1 937.4 1744.2 933.0 1745.0 930.2C1745.9 927.4 1747.6 922.0 1748.8 917.7C1750.0 913.3 1752.5 903.2 1753.8 897.7C1755.1 892.2 1757.5 881.9 1758.8 876.4C1760.1 870.9 1762.6 861.2 1763.8 856.4C1765.0 851.5 1766.6 844.3 1767.6 840.1C1768.5 835.9 1770.0 828.1 1770.8 825.1C1771.7 822.1 1772.9 819.2 1773.8 817.6C1774.7 815.9 1776.6 813.8 1777.6 812.6C1778.6 811.3 1780.3 810.0 1781.3 808.3C1782.3 806.7 1784.2 802.0 1785.1 800.1C1786.0 798.1 1787.5 794.9 1788.3 793.8C1789.2 792.7 1790.4 792.6 1791.3 792.1C1792.2 791.6 1794.1 790.8 1795.1 790.1C1796.1 789.3 1797.9 787.2 1798.9 786.3C1799.9 785.4 1801.7 783.5 1802.6 783.0C1803.5 782.6 1805.0 783.3 1805.9 783.0C1806.7 782.8 1808.2 781.0 1808.9 781.3C1809.5 781.6 1810.3 784.0 1810.9 785.0C1811.5 786.0 1812.6 788.1 1813.4 788.8C1814.1 789.5 1815.6 789.8 1816.4 790.1C1817.2 790.3 1818.6 791.1 1819.4 790.8C1820.1 790.5 1821.5 788.1 1822.1 787.5C1822.8 786.9 1823.7 786.0 1824.4 786.3C1825.0 786.6 1826.1 788.9 1826.9 789.6C1827.6 790.2 1829.3 791.4 1830.1 791.3C1831.0 791.2 1832.4 789.8 1833.1 788.8C1833.9 787.8 1835.1 785.0 1835.9 783.8C1836.7 782.6 1838.2 780.3 1838.9 779.5C1839.6 778.8 1840.8 777.8 1841.4 778.0C1842.0 778.3 1842.8 780.5 1843.4 781.3C1844.0 782.1 1845.1 784.0 1845.7 783.8C1846.2 783.6 1847.1 781.7 1847.7 780.0C1848.2 778.4 1849.2 773.7 1849.7 771.3C1850.2 768.9 1851.2 763.3 1851.4 762.0"/>
<path d="M1075.1 980.5C1075.6 980.6 1078.0 980.5 1078.8 981.3C1079.7 982.0 1080.6 984.1 1081.3 986.3C1082.1 988.4 1083.6 994.9 1084.3 997.5C1085.1 1000.2 1086.2 1004.1 1087.1 1006.3C1087.9 1008.5 1089.7 1011.1 1090.6 1013.8C1091.5 1016.5 1092.9 1022.5 1093.8 1026.3C1094.8 1030.2 1096.6 1038.6 1097.6 1042.6C1098.6 1046.6 1100.4 1053.5 1101.3 1056.3C1102.3 1059.2 1103.8 1062.4 1104.6 1063.9C1105.4 1065.3 1106.8 1066.7 1107.6 1067.1C1108.4 1067.5 1109.8 1067.7 1110.6 1067.1C1111.4 1066.5 1112.7 1064.9 1113.4 1062.6C1114.1 1060.3 1115.2 1054.1 1115.9 1050.1C1116.5 1046.1 1117.5 1036.9 1118.1 1032.6C1118.7 1028.2 1119.6 1020.2 1120.1 1017.6C1120.6 1014.9 1121.4 1013.1 1121.9 1012.5C1122.3 1011.9 1123.2 1011.4 1123.6 1013.0C1124.1 1014.7 1124.7 1020.5 1125.1 1025.1C1125.5 1029.7 1126.2 1041.2 1126.6 1047.6C1127.0 1053.9 1127.7 1066.6 1128.1 1072.6C1128.5 1078.6 1129.2 1088.8 1129.6 1092.6C1130.0 1096.5 1130.8 1100.2 1131.1 1101.4C1131.5 1102.6 1132.0 1102.6 1132.4 1101.4C1132.7 1100.2 1133.3 1096.5 1133.6 1092.6C1134.0 1088.8 1134.7 1077.9 1135.1 1072.6C1135.6 1067.3 1136.4 1056.6 1136.9 1052.6C1137.3 1048.6 1138.2 1044.2 1138.6 1042.6C1139.1 1040.9 1139.7 1039.9 1140.1 1040.1C1140.6 1040.2 1141.5 1042.3 1141.9 1043.8C1142.3 1045.3 1143.0 1049.4 1143.4 1051.3C1143.8 1053.2 1144.6 1057.0 1145.1 1058.1C1145.6 1059.2 1146.6 1059.2 1147.1 1059.6C1147.7 1060.0 1148.8 1060.1 1149.4 1060.8C1150.0 1061.6 1151.0 1063.2 1151.6 1065.1C1152.2 1067.0 1153.3 1071.8 1153.9 1075.1C1154.5 1078.5 1155.7 1085.8 1156.4 1090.1C1157.1 1094.5 1158.2 1103.6 1158.9 1107.6C1159.6 1111.7 1160.6 1116.5 1161.4 1120.2C1162.2 1123.8 1163.8 1130.8 1164.7 1135.2C1165.5 1139.5 1166.8 1147.7 1167.7 1152.7C1168.6 1157.7 1170.4 1168.4 1171.4 1172.7C1172.4 1177.1 1174.2 1181.6 1175.2 1185.2C1176.2 1188.9 1177.9 1196.2 1178.9 1200.2C1179.9 1204.2 1181.7 1211.4 1182.7 1215.3C1183.7 1219.1 1185.4 1225.4 1186.4 1229.0C1187.4 1232.7 1189.2 1238.9 1190.2 1242.8C1191.2 1246.6 1193.0 1254.5 1193.9 1257.8C1194.9 1261.1 1196.5 1266.0 1197.2 1267.8C1197.9 1269.6 1198.8 1271.4 1199.4 1271.6C1200.0 1271.7 1201.1 1270.4 1201.7 1269.1C1202.3 1267.7 1203.2 1264.4 1203.9 1261.6C1204.7 1258.7 1206.4 1252.0 1207.2 1247.8C1208.0 1243.6 1209.4 1235.3 1210.2 1230.3C1211.0 1225.3 1212.5 1215.9 1213.2 1210.3C1213.9 1204.6 1215.0 1193.7 1215.7 1187.7C1216.4 1181.7 1217.5 1171.5 1218.2 1165.2C1218.9 1158.9 1220.0 1146.2 1220.7 1140.2C1221.4 1134.2 1222.6 1124.5 1223.2 1120.2C1223.9 1115.8 1225.1 1110.1 1225.7 1107.6C1226.4 1105.1 1227.5 1102.6 1228.2 1101.4C1229.0 1100.2 1230.5 1099.0 1231.5 1098.9C1232.4 1098.8 1234.2 1100.1 1235.2 1100.6C1236.2 1101.1 1237.8 1102.1 1239.0 1102.6C1240.2 1103.1 1242.7 1104.2 1244.0 1104.4C1245.3 1104.6 1247.7 1104.5 1249.0 1104.1C1250.3 1103.7 1252.5 1102.3 1254.0 1101.4C1255.5 1100.5 1258.9 1098.2 1260.3 1097.6C1261.6 1097.0 1263.0 1096.8 1264.0 1096.9C1265.0 1097.0 1266.9 1098.0 1267.8 1098.1C1268.6 1098.2 1269.4 1098.2 1270.3 1097.6C1271.1 1097.1 1272.9 1095.2 1274.0 1093.9C1275.2 1092.5 1277.7 1089.6 1279.0 1087.6C1280.4 1085.6 1282.7 1081.4 1284.0 1078.9C1285.4 1076.4 1287.9 1071.7 1289.0 1068.9C1290.2 1066.0 1291.9 1060.8 1292.8 1057.6C1293.7 1054.4 1295.0 1047.9 1295.8 1045.1C1296.6 1042.2 1298.1 1038.1 1299.0 1036.3C1300.0 1034.6 1302.0 1032.8 1302.8 1032.1C1303.6 1031.3 1304.7 1030.2 1305.3 1030.6C1305.9 1031.0 1306.8 1033.1 1307.3 1035.1C1307.8 1037.0 1308.6 1041.7 1309.1 1045.1C1309.6 1048.4 1310.5 1056.6 1311.1 1060.1C1311.6 1063.6 1312.7 1069.2 1313.3 1071.4C1313.9 1073.5 1315.0 1075.3 1315.8 1076.4C1316.6 1077.5 1318.2 1078.7 1319.1 1079.6C1319.9 1080.5 1321.3 1082.5 1322.1 1083.1C1322.8 1083.8 1324.0 1084.9 1324.6 1084.6C1325.2 1084.4 1326.1 1083.3 1326.6 1081.4C1327.1 1079.4 1327.8 1072.8 1328.3 1070.1C1328.8 1067.4 1329.8 1062.8 1330.3 1061.3C1330.9 1059.9 1331.9 1059.4 1332.3 1059.6C1332.8 1059.8 1333.4 1061.0 1333.8 1063.1C1334.2 1065.2 1334.9 1071.5 1335.3 1075.1C1335.8 1078.7 1336.6 1086.6 1337.1 1090.1C1337.6 1093.6 1338.5 1099.1 1339.1 1101.4C1339.7 1103.7 1340.8 1106.3 1341.6 1107.6C1342.4 1109.0 1344.2 1110.7 1345.3 1111.4C1346.5 1112.1 1348.8 1112.9 1350.4 1113.2C1351.9 1113.4 1354.6 1113.5 1356.6 1113.2C1358.6 1112.8 1363.0 1111.5 1365.4 1110.6C1367.7 1109.8 1371.8 1108.0 1374.1 1107.1C1376.5 1106.2 1380.0 1104.5 1382.9 1103.9C1385.7 1103.3 1391.7 1102.6 1395.4 1102.6C1399.1 1102.6 1405.7 1103.6 1410.4 1103.9C1415.1 1104.2 1425.1 1104.9 1430.4 1105.1C1435.8 1105.4 1445.8 1105.1 1450.5 1105.6C1455.1 1106.1 1460.7 1107.6 1465.5 1108.9C1470.2 1110.2 1481.6 1114.2 1486.0 1115.2C1490.4 1116.2 1496.2 1116.3 1498.5 1116.4C1500.9 1116.5 1502.4 1115.9 1503.5 1115.7C1504.7 1115.4 1506.3 1114.4 1507.3 1114.4C1508.3 1114.4 1509.9 1115.5 1511.1 1115.9C1512.2 1116.3 1514.9 1117.6 1516.1 1117.7C1517.2 1117.7 1518.8 1116.9 1519.8 1116.4C1520.8 1115.9 1522.7 1114.4 1523.6 1113.9C1524.5 1113.4 1525.7 1112.7 1526.6 1112.7C1527.4 1112.7 1528.7 1113.6 1529.8 1113.9C1530.9 1114.2 1533.8 1114.9 1534.8 1114.7C1535.8 1114.4 1536.7 1112.9 1537.3 1112.2C1538.0 1111.5 1539.2 1109.8 1539.8 1109.4C1540.5 1109.0 1541.6 1108.7 1542.3 1108.9C1543.1 1109.1 1544.7 1110.3 1545.6 1110.6C1546.5 1111.0 1548.1 1111.1 1549.1 1111.4C1550.1 1111.7 1552.3 1113.3 1553.1 1113.2C1553.9 1113.1 1554.8 1111.4 1555.4 1110.6C1555.9 1109.9 1556.8 1108.1 1557.4 1107.6C1557.9 1107.2 1558.8 1106.8 1559.4 1107.1C1559.9 1107.5 1561.0 1109.2 1561.6 1110.1C1562.2 1111.1 1562.9 1113.1 1563.6 1113.9C1564.3 1114.7 1565.9 1115.1 1566.6 1115.9C1567.3 1116.7 1568.1 1118.4 1568.6 1120.2C1569.1 1121.9 1569.9 1125.9 1570.4 1128.9C1570.9 1131.9 1571.8 1139.2 1572.4 1142.7C1573.0 1146.2 1574.1 1152.4 1574.9 1155.2C1575.6 1158.0 1577.1 1161.5 1577.9 1164.0C1578.6 1166.5 1579.7 1170.8 1580.4 1174.0C1581.0 1177.1 1582.2 1184.7 1582.9 1187.7C1583.5 1190.7 1584.6 1194.8 1585.4 1196.5C1586.2 1198.2 1587.9 1198.6 1588.6 1200.2C1589.3 1201.9 1590.1 1205.7 1590.6 1209.0C1591.1 1212.3 1591.9 1220.4 1592.4 1225.3C1592.9 1230.1 1593.7 1239.9 1594.1 1245.3C1594.6 1250.6 1595.3 1261.3 1595.6 1265.3C1596.0 1269.3 1596.6 1273.6 1596.9 1275.3C1597.2 1277.1 1597.8 1278.5 1598.1 1278.3C1598.5 1278.2 1599.2 1276.5 1599.6 1274.1C1600.0 1271.7 1600.7 1264.8 1601.1 1260.3C1601.6 1255.8 1602.4 1245.3 1602.9 1240.3C1603.4 1235.3 1604.2 1226.4 1604.7 1222.8C1605.1 1219.1 1605.8 1214.4 1606.2 1212.8C1606.6 1211.2 1607.3 1210.6 1607.7 1210.8C1608.1 1210.9 1608.8 1211.7 1609.2 1214.0C1609.6 1216.3 1610.2 1223.3 1610.7 1227.8C1611.1 1232.3 1611.9 1242.1 1612.4 1247.8C1612.9 1253.5 1613.7 1264.6 1614.2 1270.3C1614.7 1276.0 1615.6 1286.0 1616.2 1290.3C1616.7 1294.7 1617.7 1300.5 1618.2 1302.8C1618.7 1305.2 1619.5 1307.4 1619.9 1307.9C1620.4 1308.4 1621.2 1307.9 1621.7 1306.6C1622.2 1305.3 1623.1 1301.7 1623.7 1297.8C1624.2 1294.0 1625.2 1283.8 1625.7 1277.8C1626.2 1271.8 1627.0 1260.5 1627.4 1252.8C1627.9 1245.1 1628.7 1229.3 1629.2 1220.3C1629.7 1211.3 1630.6 1192.6 1631.2 1185.2C1631.7 1177.9 1632.6 1169.2 1633.2 1165.2C1633.8 1161.2 1635.0 1157.9 1635.7 1155.2C1636.4 1152.5 1637.5 1147.7 1638.2 1145.2C1638.9 1142.7 1640.1 1138.0 1640.7 1136.4C1641.3 1134.8 1642.0 1133.3 1642.4 1133.2C1642.9 1133.0 1643.7 1133.7 1644.2 1135.2C1644.7 1136.6 1645.6 1141.1 1646.2 1143.9C1646.8 1146.8 1648.0 1153.3 1648.7 1156.4C1649.4 1159.6 1650.5 1164.9 1651.2 1167.7C1651.9 1170.5 1653.0 1175.4 1653.7 1177.7C1654.4 1180.0 1655.5 1183.1 1656.2 1184.7C1656.9 1186.4 1658.4 1189.2 1659.2 1190.2C1660.0 1191.2 1661.6 1192.1 1662.5 1192.2C1663.3 1192.3 1664.9 1191.6 1665.7 1191.0C1666.5 1190.3 1668.0 1188.2 1668.7 1187.2C1669.5 1186.3 1670.6 1184.5 1671.2 1184.0C1671.9 1183.5 1673.1 1183.0 1673.7 1183.5C1674.4 1184.0 1675.5 1185.8 1676.2 1187.7C1677.0 1189.6 1678.4 1194.9 1679.2 1197.7C1680.1 1200.6 1681.6 1206.3 1682.5 1209.0C1683.4 1211.7 1684.9 1215.9 1685.7 1217.8C1686.6 1219.6 1688.0 1221.9 1688.7 1222.8C1689.5 1223.6 1690.6 1224.2 1691.2 1224.0C1691.9 1223.8 1693.1 1222.5 1693.7 1221.5C1694.4 1220.5 1695.6 1217.6 1696.2 1216.5C1696.9 1215.4 1698.1 1213.8 1698.7 1213.5C1699.4 1213.2 1700.6 1214.4 1701.3 1214.5C1701.9 1214.6 1703.2 1214.7 1703.8 1214.0C1704.4 1213.3 1705.2 1211.2 1705.8 1209.0C1706.4 1206.8 1707.6 1200.4 1708.3 1197.7C1708.9 1195.1 1710.1 1190.5 1710.8 1189.0C1711.4 1187.5 1712.3 1186.6 1713.0 1186.5C1713.7 1186.3 1715.0 1187.7 1715.8 1187.7C1716.5 1187.8 1718.0 1187.6 1718.8 1187.0C1719.5 1186.3 1720.7 1184.6 1721.3 1182.7C1721.9 1180.8 1722.8 1177.1 1723.3 1172.7C1723.7 1168.4 1724.4 1157.9 1724.8 1150.2C1725.1 1142.5 1725.7 1125.5 1726.0 1115.2C1726.4 1104.8 1726.9 1083.3 1727.3 1072.6C1727.6 1061.9 1728.2 1043.7 1728.5 1035.1C1728.9 1026.4 1729.4 1012.7 1729.8 1007.5C1730.1 1002.4 1730.7 997.8 1731.0 996.3C1731.4 994.8 1732.0 994.8 1732.3 996.3C1732.6 997.8 1733.0 1001.7 1733.3 1007.5C1733.6 1013.4 1734.2 1030.4 1734.5 1040.1C1734.9 1049.8 1735.5 1068.8 1735.8 1080.1C1736.1 1091.5 1736.7 1113.8 1737.0 1125.2C1737.4 1136.5 1737.9 1156.5 1738.3 1165.2C1738.7 1173.9 1739.4 1185.6 1739.8 1190.2C1740.2 1194.9 1740.9 1199.4 1741.3 1200.2C1741.7 1201.1 1742.3 1198.5 1742.8 1196.5C1743.3 1194.5 1744.2 1188.7 1745.0 1185.2C1745.8 1181.7 1747.6 1174.5 1748.8 1170.2C1750.0 1165.9 1752.5 1157.4 1753.8 1152.7C1755.1 1148.0 1757.6 1139.8 1758.8 1135.2C1760.0 1130.5 1761.6 1122.8 1762.6 1117.7C1763.6 1112.5 1765.3 1100.6 1766.3 1096.4C1767.3 1092.2 1769.1 1088.7 1770.1 1086.4C1771.1 1084.0 1772.8 1080.6 1773.8 1078.9C1774.8 1077.1 1776.6 1074.3 1777.6 1073.1C1778.6 1071.9 1780.3 1071.3 1781.3 1070.1C1782.3 1068.9 1784.1 1065.9 1785.1 1063.9C1786.1 1061.8 1787.7 1057.3 1788.8 1055.1C1790.0 1052.9 1792.6 1049.6 1793.8 1047.6C1795.1 1045.6 1797.3 1041.4 1798.4 1040.1C1799.4 1038.7 1801.0 1037.4 1801.9 1037.6C1802.8 1037.7 1804.2 1039.8 1805.1 1041.3C1806.0 1042.8 1807.5 1047.3 1808.4 1048.8C1809.2 1050.4 1810.6 1052.9 1811.4 1053.1C1812.1 1053.3 1813.1 1051.7 1813.9 1050.1C1814.6 1048.5 1816.0 1043.2 1816.9 1041.3C1817.7 1039.5 1819.2 1037.2 1820.1 1036.3C1821.1 1035.5 1822.9 1035.3 1823.9 1035.1C1824.9 1034.8 1826.6 1034.2 1827.6 1034.3C1828.6 1034.4 1830.5 1035.9 1831.4 1035.8C1832.3 1035.8 1833.6 1034.9 1834.4 1033.8C1835.2 1032.7 1836.7 1029.4 1837.6 1027.6C1838.6 1025.7 1840.4 1021.4 1841.4 1020.1C1842.4 1018.7 1844.3 1018.4 1845.2 1017.6C1846.0 1016.7 1847.0 1015.1 1847.7 1013.8C1848.3 1012.5 1849.7 1009.3 1850.2 1007.5C1850.7 1005.8 1851.2 1001.5 1851.4 1000.5"/>
</g>
<g class="ax">
<path d="M609.05 277.10 H1387.33" />
<path d="M610.25 277.10 V282.80" />
<path d="M721.09 277.10 V282.80" />
<path d="M831.93 277.10 V282.80" />
<path d="M942.77 277.10 V282.80" />
<path d="M1053.61 277.10 V282.80" />
<path d="M1164.45 277.10 V282.80" />
<path d="M1275.29 277.10 V282.80" />
<path d="M1386.13 277.10 V282.80" />
<path d="M139.40 1326.70 H917.33" />
<path d="M140.60 1326.70 V1332.40" />
<path d="M251.39 1326.70 V1332.40" />
<path d="M362.18 1326.70 V1332.40" />
<path d="M472.97 1326.70 V1332.40" />
<path d="M583.76 1326.70 V1332.40" />
<path d="M694.55 1326.70 V1332.40" />
<path d="M805.34 1326.70 V1332.40" />
<path d="M916.13 1326.70 V1332.40" />
<path d="M1073.10 1330.40 H1850.54" />
<path d="M1074.30 1330.40 V1336.10" />
<path d="M1185.02 1330.40 V1336.10" />
<path d="M1295.74 1330.40 V1336.10" />
<path d="M1406.46 1330.40 V1336.10" />
<path d="M1517.18 1330.40 V1336.10" />
<path d="M1627.90 1330.40 V1336.10" />
<path d="M1738.62 1330.40 V1336.10" />
<path d="M1849.34 1330.40 V1336.10" />
</g>
<g>
<text x="609.75" y="309.20" class="tk">4000</text>
<text x="720.56" y="309.20" class="tk">3500</text>
<text x="831.37" y="309.20" class="tk">3000</text>
<text x="942.18" y="309.20" class="tk">2500</text>
<text x="1052.99" y="309.20" class="tk">2000</text>
<text x="1163.80" y="309.20" class="tk">1500</text>
<text x="1274.61" y="309.20" class="tk">1000</text>
<text x="1385.42" y="309.20" class="tk">500</text>
<text x="860.00" y="360.00" class="lb">Wavenumber (cm<tspan class="sup mn" dy="-8.3">-</tspan><tspan class="sup">1</tspan><tspan dy="8.3">)</tspan></text>
<text x="140.90" y="1357.80" class="tk">4000</text>
<text x="251.74" y="1357.80" class="tk">3500</text>
<text x="362.58" y="1357.80" class="tk">3000</text>
<text x="473.42" y="1357.80" class="tk">2500</text>
<text x="584.26" y="1357.80" class="tk">2000</text>
<text x="695.10" y="1357.80" class="tk">1500</text>
<text x="805.94" y="1357.80" class="tk">1000</text>
<text x="916.78" y="1357.80" class="tk">500</text>
<text x="390.50" y="1409.20" class="lb">Wavenumber (cm<tspan class="sup mn" dy="-8.3">-</tspan><tspan class="sup">1</tspan><tspan dy="8.3">)</tspan></text>
<text x="1071.30" y="1361.40" class="tk">4000</text>
<text x="1182.21" y="1361.40" class="tk">3500</text>
<text x="1293.12" y="1361.40" class="tk">3000</text>
<text x="1404.03" y="1361.40" class="tk">2500</text>
<text x="1514.94" y="1361.40" class="tk">2000</text>
<text x="1625.85" y="1361.40" class="tk">1500</text>
<text x="1736.76" y="1361.40" class="tk">1000</text>
<text x="1847.67" y="1361.40" class="tk">500</text>
<text x="1316.70" y="1411.60" class="lb">Wavenumber (cm<tspan class="sup mn" dy="-8.3">-</tspan><tspan class="sup">1</tspan><tspan dy="8.3">)</tspan></text>
<rect x="1865.3" y="1338" width="14" height="28" fill="#fff"/>
</g>
<g>
<text transform="translate(555.0 73.2) scale(1.03 1)" class="pl">(a)</text>
<text transform="translate(91.0 450.3) scale(1.03 1)" class="pl">(b)</text>
<text transform="translate(91.0 811.1) scale(1.03 1)" class="pl">(c)</text>
<text transform="translate(91.0 1173.7) scale(1.03 1)" class="pl">(d)</text>
<text transform="translate(1018.8 450.6) scale(1.03 1)" class="pl">(e)</text>
<text transform="translate(1018.8 768.5) scale(1.03 1)" class="pl">(f)</text>
<text transform="translate(1018.8 974.9) scale(1.03 1)" class="pl">(g)</text>
</g>
</svg>
</body></html>
